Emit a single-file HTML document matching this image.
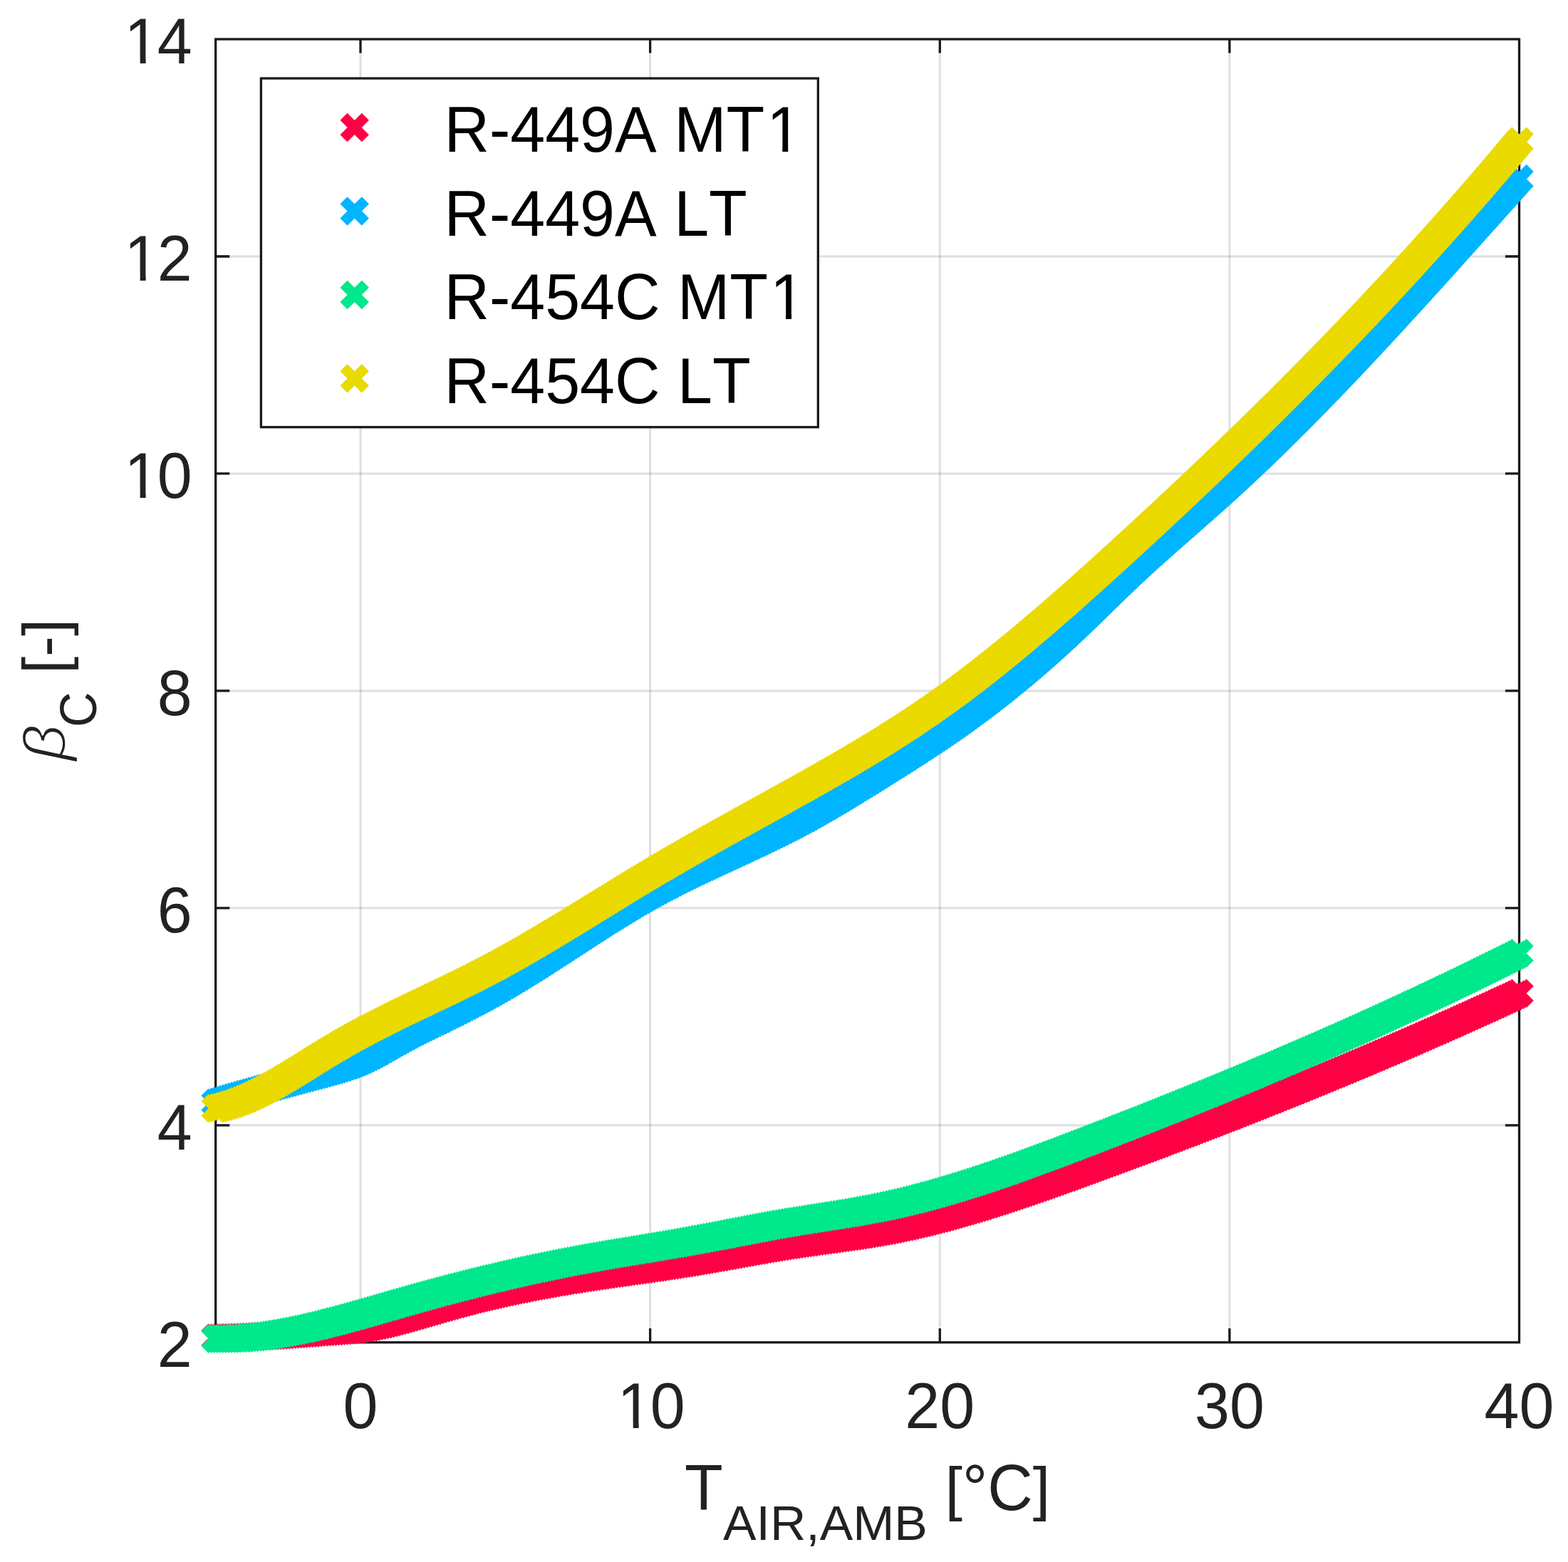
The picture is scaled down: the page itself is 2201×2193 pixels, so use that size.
<!DOCTYPE html>
<html><head><meta charset="utf-8"><title>plot</title>
<style>
html,body{margin:0;padding:0;background:#fff;}
svg{display:block;}
text{font-family:"Liberation Sans",Arial,Helvetica,sans-serif;font-kerning:none;}
</style></head><body>
<svg width="2201" height="2193" viewBox="0 0 2201 2193">
<defs>
</defs>
<rect width="2201" height="2193" fill="#fff"/>
<path d="M506.0 55.0V1884.7M912.6 55.0V1884.7M1319.3 55.0V1884.7M1725.9 55.0V1884.7" stroke="#262626" stroke-opacity="0.15" stroke-width="3" fill="none"/>
<path d="M302.7 1579.8H2132.5M302.7 1274.8H2132.5M302.7 969.9H2132.5M302.7 664.9H2132.5M302.7 360.0H2132.5" stroke="#262626" stroke-opacity="0.15" stroke-width="3" fill="none"/>
<path d="M506.0 1884.7v-19.6M506.0 55.0v19.6M912.6 1884.7v-19.6M912.6 55.0v19.6M1319.3 1884.7v-19.6M1319.3 55.0v19.6M1725.9 1884.7v-19.6M1725.9 55.0v19.6M302.7 1579.8h19.6M2132.5 1579.8h-19.6M302.7 1274.8h19.6M2132.5 1274.8h-19.6M302.7 969.9h19.6M2132.5 969.9h-19.6M302.7 664.9h19.6M2132.5 664.9h-19.6M302.7 360.0h19.6M2132.5 360.0h-19.6" stroke="#1a1a1a" stroke-width="3.3" fill="none"/>
<rect x="302.7" y="55.0" width="1829.8" height="1829.7" fill="none" stroke="#1a1a1a" stroke-width="3.3"/>
<path fill="none" stroke="#ff0044" stroke-width="14.35" d="M287.5 1863.3l30.4 30.4m0 -30.4l-30.4 30.4M291.6 1863.3l30.4 30.4m0 -30.4l-30.4 30.4M295.6 1863.2l30.4 30.4m0 -30.4l-30.4 30.4M299.7 1863.1l30.4 30.4m0 -30.4l-30.4 30.4M303.8 1863.0l30.4 30.4m0 -30.4l-30.4 30.4M307.8 1862.9l30.4 30.4m0 -30.4l-30.4 30.4M311.9 1862.8l30.4 30.4m0 -30.4l-30.4 30.4M316.0 1862.7l30.4 30.4m0 -30.4l-30.4 30.4M320.0 1862.5l30.4 30.4m0 -30.4l-30.4 30.4M324.1 1862.4l30.4 30.4m0 -30.4l-30.4 30.4M328.2 1862.2l30.4 30.4m0 -30.4l-30.4 30.4M332.2 1862.0l30.4 30.4m0 -30.4l-30.4 30.4M336.3 1861.8l30.4 30.4m0 -30.4l-30.4 30.4M340.4 1861.6l30.4 30.4m0 -30.4l-30.4 30.4M344.4 1861.4l30.4 30.4m0 -30.4l-30.4 30.4M348.5 1861.1l30.4 30.4m0 -30.4l-30.4 30.4M352.6 1860.9l30.4 30.4m0 -30.4l-30.4 30.4M356.6 1860.6l30.4 30.4m0 -30.4l-30.4 30.4M360.7 1860.4l30.4 30.4m0 -30.4l-30.4 30.4M364.8 1860.1l30.4 30.4m0 -30.4l-30.4 30.4M368.8 1859.8l30.4 30.4m0 -30.4l-30.4 30.4M372.9 1859.6l30.4 30.4m0 -30.4l-30.4 30.4M377.0 1859.3l30.4 30.4m0 -30.4l-30.4 30.4M381.0 1859.0l30.4 30.4m0 -30.4l-30.4 30.4M385.1 1858.7l30.4 30.4m0 -30.4l-30.4 30.4M389.2 1858.4l30.4 30.4m0 -30.4l-30.4 30.4M393.2 1858.1l30.4 30.4m0 -30.4l-30.4 30.4M397.3 1857.8l30.4 30.4m0 -30.4l-30.4 30.4M401.4 1857.5l30.4 30.4m0 -30.4l-30.4 30.4M405.4 1857.2l30.4 30.4m0 -30.4l-30.4 30.4M409.5 1856.9l30.4 30.4m0 -30.4l-30.4 30.4M413.6 1856.6l30.4 30.4m0 -30.4l-30.4 30.4M417.6 1856.3l30.4 30.4m0 -30.4l-30.4 30.4M421.7 1856.0l30.4 30.4m0 -30.4l-30.4 30.4M425.8 1855.7l30.4 30.4m0 -30.4l-30.4 30.4M429.8 1855.4l30.4 30.4m0 -30.4l-30.4 30.4M433.9 1855.1l30.4 30.4m0 -30.4l-30.4 30.4M438.0 1854.8l30.4 30.4m0 -30.4l-30.4 30.4M442.0 1854.5l30.4 30.4m0 -30.4l-30.4 30.4M446.1 1854.3l30.4 30.4m0 -30.4l-30.4 30.4M450.1 1854.0l30.4 30.4m0 -30.4l-30.4 30.4M454.2 1853.7l30.4 30.4m0 -30.4l-30.4 30.4M458.3 1853.4l30.4 30.4m0 -30.4l-30.4 30.4M462.3 1853.1l30.4 30.4m0 -30.4l-30.4 30.4M466.4 1852.7l30.4 30.4m0 -30.4l-30.4 30.4M470.5 1852.4l30.4 30.4m0 -30.4l-30.4 30.4M474.5 1852.0l30.4 30.4m0 -30.4l-30.4 30.4M478.6 1851.5l30.4 30.4m0 -30.4l-30.4 30.4M482.7 1851.1l30.4 30.4m0 -30.4l-30.4 30.4M486.7 1850.5l30.4 30.4m0 -30.4l-30.4 30.4M490.8 1850.0l30.4 30.4m0 -30.4l-30.4 30.4M494.9 1849.3l30.4 30.4m0 -30.4l-30.4 30.4M498.9 1848.7l30.4 30.4m0 -30.4l-30.4 30.4M503.0 1848.0l30.4 30.4m0 -30.4l-30.4 30.4M507.1 1847.2l30.4 30.4m0 -30.4l-30.4 30.4M511.1 1846.4l30.4 30.4m0 -30.4l-30.4 30.4M515.2 1845.5l30.4 30.4m0 -30.4l-30.4 30.4M519.3 1844.6l30.4 30.4m0 -30.4l-30.4 30.4M523.3 1843.7l30.4 30.4m0 -30.4l-30.4 30.4M527.4 1842.7l30.4 30.4m0 -30.4l-30.4 30.4M531.5 1841.7l30.4 30.4m0 -30.4l-30.4 30.4M535.5 1840.7l30.4 30.4m0 -30.4l-30.4 30.4M539.6 1839.6l30.4 30.4m0 -30.4l-30.4 30.4M543.7 1838.6l30.4 30.4m0 -30.4l-30.4 30.4M547.7 1837.5l30.4 30.4m0 -30.4l-30.4 30.4M551.8 1836.4l30.4 30.4m0 -30.4l-30.4 30.4M555.9 1835.2l30.4 30.4m0 -30.4l-30.4 30.4M559.9 1834.1l30.4 30.4m0 -30.4l-30.4 30.4M564.0 1832.9l30.4 30.4m0 -30.4l-30.4 30.4M568.1 1831.8l30.4 30.4m0 -30.4l-30.4 30.4M572.1 1830.6l30.4 30.4m0 -30.4l-30.4 30.4M576.2 1829.4l30.4 30.4m0 -30.4l-30.4 30.4M580.3 1828.2l30.4 30.4m0 -30.4l-30.4 30.4M584.3 1827.0l30.4 30.4m0 -30.4l-30.4 30.4M588.4 1825.8l30.4 30.4m0 -30.4l-30.4 30.4M592.5 1824.7l30.4 30.4m0 -30.4l-30.4 30.4M596.5 1823.5l30.4 30.4m0 -30.4l-30.4 30.4M600.6 1822.3l30.4 30.4m0 -30.4l-30.4 30.4M604.7 1821.1l30.4 30.4m0 -30.4l-30.4 30.4M608.7 1820.0l30.4 30.4m0 -30.4l-30.4 30.4M612.8 1818.8l30.4 30.4m0 -30.4l-30.4 30.4M616.9 1817.7l30.4 30.4m0 -30.4l-30.4 30.4M620.9 1816.6l30.4 30.4m0 -30.4l-30.4 30.4M625.0 1815.5l30.4 30.4m0 -30.4l-30.4 30.4M629.1 1814.4l30.4 30.4m0 -30.4l-30.4 30.4M633.1 1813.3l30.4 30.4m0 -30.4l-30.4 30.4M637.2 1812.2l30.4 30.4m0 -30.4l-30.4 30.4M641.3 1811.2l30.4 30.4m0 -30.4l-30.4 30.4M645.3 1810.1l30.4 30.4m0 -30.4l-30.4 30.4M649.4 1809.1l30.4 30.4m0 -30.4l-30.4 30.4M653.5 1808.1l30.4 30.4m0 -30.4l-30.4 30.4M657.5 1807.1l30.4 30.4m0 -30.4l-30.4 30.4M661.6 1806.1l30.4 30.4m0 -30.4l-30.4 30.4M665.7 1805.2l30.4 30.4m0 -30.4l-30.4 30.4M669.7 1804.2l30.4 30.4m0 -30.4l-30.4 30.4M673.8 1803.2l30.4 30.4m0 -30.4l-30.4 30.4M677.9 1802.3l30.4 30.4m0 -30.4l-30.4 30.4M681.9 1801.4l30.4 30.4m0 -30.4l-30.4 30.4M686.0 1800.5l30.4 30.4m0 -30.4l-30.4 30.4M690.1 1799.6l30.4 30.4m0 -30.4l-30.4 30.4M694.1 1798.7l30.4 30.4m0 -30.4l-30.4 30.4M698.2 1797.8l30.4 30.4m0 -30.4l-30.4 30.4M702.3 1797.0l30.4 30.4m0 -30.4l-30.4 30.4M706.3 1796.1l30.4 30.4m0 -30.4l-30.4 30.4M710.4 1795.3l30.4 30.4m0 -30.4l-30.4 30.4M714.5 1794.5l30.4 30.4m0 -30.4l-30.4 30.4M718.5 1793.7l30.4 30.4m0 -30.4l-30.4 30.4M722.6 1792.9l30.4 30.4m0 -30.4l-30.4 30.4M726.7 1792.1l30.4 30.4m0 -30.4l-30.4 30.4M730.7 1791.3l30.4 30.4m0 -30.4l-30.4 30.4M734.8 1790.5l30.4 30.4m0 -30.4l-30.4 30.4M738.9 1789.7l30.4 30.4m0 -30.4l-30.4 30.4M742.9 1789.0l30.4 30.4m0 -30.4l-30.4 30.4M747.0 1788.2l30.4 30.4m0 -30.4l-30.4 30.4M751.0 1787.5l30.4 30.4m0 -30.4l-30.4 30.4M755.1 1786.8l30.4 30.4m0 -30.4l-30.4 30.4M759.2 1786.1l30.4 30.4m0 -30.4l-30.4 30.4M763.2 1785.4l30.4 30.4m0 -30.4l-30.4 30.4M767.3 1784.7l30.4 30.4m0 -30.4l-30.4 30.4M771.4 1784.0l30.4 30.4m0 -30.4l-30.4 30.4M775.4 1783.3l30.4 30.4m0 -30.4l-30.4 30.4M779.5 1782.6l30.4 30.4m0 -30.4l-30.4 30.4M783.6 1782.0l30.4 30.4m0 -30.4l-30.4 30.4M787.6 1781.3l30.4 30.4m0 -30.4l-30.4 30.4M791.7 1780.7l30.4 30.4m0 -30.4l-30.4 30.4M795.8 1780.0l30.4 30.4m0 -30.4l-30.4 30.4M799.8 1779.4l30.4 30.4m0 -30.4l-30.4 30.4M803.9 1778.8l30.4 30.4m0 -30.4l-30.4 30.4M808.0 1778.2l30.4 30.4m0 -30.4l-30.4 30.4M812.0 1777.6l30.4 30.4m0 -30.4l-30.4 30.4M816.1 1777.0l30.4 30.4m0 -30.4l-30.4 30.4M820.2 1776.4l30.4 30.4m0 -30.4l-30.4 30.4M824.2 1775.8l30.4 30.4m0 -30.4l-30.4 30.4M828.3 1775.2l30.4 30.4m0 -30.4l-30.4 30.4M832.4 1774.6l30.4 30.4m0 -30.4l-30.4 30.4M836.4 1774.0l30.4 30.4m0 -30.4l-30.4 30.4M840.5 1773.4l30.4 30.4m0 -30.4l-30.4 30.4M844.6 1772.9l30.4 30.4m0 -30.4l-30.4 30.4M848.6 1772.3l30.4 30.4m0 -30.4l-30.4 30.4M852.7 1771.7l30.4 30.4m0 -30.4l-30.4 30.4M856.8 1771.2l30.4 30.4m0 -30.4l-30.4 30.4M860.8 1770.6l30.4 30.4m0 -30.4l-30.4 30.4M864.9 1770.0l30.4 30.4m0 -30.4l-30.4 30.4M869.0 1769.4l30.4 30.4m0 -30.4l-30.4 30.4M873.0 1768.9l30.4 30.4m0 -30.4l-30.4 30.4M877.1 1768.3l30.4 30.4m0 -30.4l-30.4 30.4M881.2 1767.7l30.4 30.4m0 -30.4l-30.4 30.4M885.2 1767.1l30.4 30.4m0 -30.4l-30.4 30.4M889.3 1766.5l30.4 30.4m0 -30.4l-30.4 30.4M893.4 1766.0l30.4 30.4m0 -30.4l-30.4 30.4M897.4 1765.4l30.4 30.4m0 -30.4l-30.4 30.4M901.5 1764.8l30.4 30.4m0 -30.4l-30.4 30.4M905.6 1764.2l30.4 30.4m0 -30.4l-30.4 30.4M909.6 1763.6l30.4 30.4m0 -30.4l-30.4 30.4M913.7 1763.0l30.4 30.4m0 -30.4l-30.4 30.4M917.8 1762.4l30.4 30.4m0 -30.4l-30.4 30.4M921.8 1761.8l30.4 30.4m0 -30.4l-30.4 30.4M925.9 1761.2l30.4 30.4m0 -30.4l-30.4 30.4M930.0 1760.5l30.4 30.4m0 -30.4l-30.4 30.4M934.0 1759.9l30.4 30.4m0 -30.4l-30.4 30.4M938.1 1759.3l30.4 30.4m0 -30.4l-30.4 30.4M942.2 1758.6l30.4 30.4m0 -30.4l-30.4 30.4M946.2 1758.0l30.4 30.4m0 -30.4l-30.4 30.4M950.3 1757.3l30.4 30.4m0 -30.4l-30.4 30.4M954.4 1756.7l30.4 30.4m0 -30.4l-30.4 30.4M958.4 1756.0l30.4 30.4m0 -30.4l-30.4 30.4M962.5 1755.3l30.4 30.4m0 -30.4l-30.4 30.4M966.6 1754.6l30.4 30.4m0 -30.4l-30.4 30.4M970.6 1754.0l30.4 30.4m0 -30.4l-30.4 30.4M974.7 1753.3l30.4 30.4m0 -30.4l-30.4 30.4M978.8 1752.5l30.4 30.4m0 -30.4l-30.4 30.4M982.8 1751.8l30.4 30.4m0 -30.4l-30.4 30.4M986.9 1751.1l30.4 30.4m0 -30.4l-30.4 30.4M991.0 1750.4l30.4 30.4m0 -30.4l-30.4 30.4M995.0 1749.7l30.4 30.4m0 -30.4l-30.4 30.4M999.1 1748.9l30.4 30.4m0 -30.4l-30.4 30.4M1003.2 1748.2l30.4 30.4m0 -30.4l-30.4 30.4M1007.2 1747.5l30.4 30.4m0 -30.4l-30.4 30.4M1011.3 1746.7l30.4 30.4m0 -30.4l-30.4 30.4M1015.4 1746.0l30.4 30.4m0 -30.4l-30.4 30.4M1019.4 1745.3l30.4 30.4m0 -30.4l-30.4 30.4M1023.5 1744.5l30.4 30.4m0 -30.4l-30.4 30.4M1027.6 1743.8l30.4 30.4m0 -30.4l-30.4 30.4M1031.6 1743.1l30.4 30.4m0 -30.4l-30.4 30.4M1035.7 1742.3l30.4 30.4m0 -30.4l-30.4 30.4M1039.8 1741.6l30.4 30.4m0 -30.4l-30.4 30.4M1043.8 1740.9l30.4 30.4m0 -30.4l-30.4 30.4M1047.9 1740.2l30.4 30.4m0 -30.4l-30.4 30.4M1051.9 1739.5l30.4 30.4m0 -30.4l-30.4 30.4M1056.0 1738.8l30.4 30.4m0 -30.4l-30.4 30.4M1060.1 1738.1l30.4 30.4m0 -30.4l-30.4 30.4M1064.1 1737.4l30.4 30.4m0 -30.4l-30.4 30.4M1068.2 1736.7l30.4 30.4m0 -30.4l-30.4 30.4M1072.3 1736.0l30.4 30.4m0 -30.4l-30.4 30.4M1076.3 1735.3l30.4 30.4m0 -30.4l-30.4 30.4M1080.4 1734.7l30.4 30.4m0 -30.4l-30.4 30.4M1084.5 1734.0l30.4 30.4m0 -30.4l-30.4 30.4M1088.5 1733.4l30.4 30.4m0 -30.4l-30.4 30.4M1092.6 1732.8l30.4 30.4m0 -30.4l-30.4 30.4M1096.7 1732.2l30.4 30.4m0 -30.4l-30.4 30.4M1100.7 1731.6l30.4 30.4m0 -30.4l-30.4 30.4M1104.8 1731.0l30.4 30.4m0 -30.4l-30.4 30.4M1108.9 1730.4l30.4 30.4m0 -30.4l-30.4 30.4M1112.9 1729.8l30.4 30.4m0 -30.4l-30.4 30.4M1117.0 1729.2l30.4 30.4m0 -30.4l-30.4 30.4M1121.1 1728.7l30.4 30.4m0 -30.4l-30.4 30.4M1125.1 1728.1l30.4 30.4m0 -30.4l-30.4 30.4M1129.2 1727.5l30.4 30.4m0 -30.4l-30.4 30.4M1133.3 1727.0l30.4 30.4m0 -30.4l-30.4 30.4M1137.3 1726.4l30.4 30.4m0 -30.4l-30.4 30.4M1141.4 1725.9l30.4 30.4m0 -30.4l-30.4 30.4M1145.5 1725.3l30.4 30.4m0 -30.4l-30.4 30.4M1149.5 1724.8l30.4 30.4m0 -30.4l-30.4 30.4M1153.6 1724.2l30.4 30.4m0 -30.4l-30.4 30.4M1157.7 1723.6l30.4 30.4m0 -30.4l-30.4 30.4M1161.7 1723.1l30.4 30.4m0 -30.4l-30.4 30.4M1165.8 1722.5l30.4 30.4m0 -30.4l-30.4 30.4M1169.9 1721.9l30.4 30.4m0 -30.4l-30.4 30.4M1173.9 1721.4l30.4 30.4m0 -30.4l-30.4 30.4M1178.0 1720.8l30.4 30.4m0 -30.4l-30.4 30.4M1182.1 1720.2l30.4 30.4m0 -30.4l-30.4 30.4M1186.1 1719.6l30.4 30.4m0 -30.4l-30.4 30.4M1190.2 1719.0l30.4 30.4m0 -30.4l-30.4 30.4M1194.3 1718.3l30.4 30.4m0 -30.4l-30.4 30.4M1198.3 1717.7l30.4 30.4m0 -30.4l-30.4 30.4M1202.4 1717.0l30.4 30.4m0 -30.4l-30.4 30.4M1206.5 1716.4l30.4 30.4m0 -30.4l-30.4 30.4M1210.5 1715.7l30.4 30.4m0 -30.4l-30.4 30.4M1214.6 1715.0l30.4 30.4m0 -30.4l-30.4 30.4M1218.7 1714.3l30.4 30.4m0 -30.4l-30.4 30.4M1222.7 1713.6l30.4 30.4m0 -30.4l-30.4 30.4M1226.8 1712.8l30.4 30.4m0 -30.4l-30.4 30.4M1230.9 1712.0l30.4 30.4m0 -30.4l-30.4 30.4M1234.9 1711.3l30.4 30.4m0 -30.4l-30.4 30.4M1239.0 1710.5l30.4 30.4m0 -30.4l-30.4 30.4M1243.1 1709.6l30.4 30.4m0 -30.4l-30.4 30.4M1247.1 1708.8l30.4 30.4m0 -30.4l-30.4 30.4M1251.2 1707.9l30.4 30.4m0 -30.4l-30.4 30.4M1255.3 1707.1l30.4 30.4m0 -30.4l-30.4 30.4M1259.3 1706.2l30.4 30.4m0 -30.4l-30.4 30.4M1263.4 1705.3l30.4 30.4m0 -30.4l-30.4 30.4M1267.5 1704.3l30.4 30.4m0 -30.4l-30.4 30.4M1271.5 1703.4l30.4 30.4m0 -30.4l-30.4 30.4M1275.6 1702.4l30.4 30.4m0 -30.4l-30.4 30.4M1279.7 1701.5l30.4 30.4m0 -30.4l-30.4 30.4M1283.7 1700.5l30.4 30.4m0 -30.4l-30.4 30.4M1287.8 1699.5l30.4 30.4m0 -30.4l-30.4 30.4M1291.9 1698.4l30.4 30.4m0 -30.4l-30.4 30.4M1295.9 1697.4l30.4 30.4m0 -30.4l-30.4 30.4M1300.0 1696.4l30.4 30.4m0 -30.4l-30.4 30.4M1304.1 1695.3l30.4 30.4m0 -30.4l-30.4 30.4M1308.1 1694.2l30.4 30.4m0 -30.4l-30.4 30.4M1312.2 1693.1l30.4 30.4m0 -30.4l-30.4 30.4M1316.3 1692.0l30.4 30.4m0 -30.4l-30.4 30.4M1320.3 1690.9l30.4 30.4m0 -30.4l-30.4 30.4M1324.4 1689.7l30.4 30.4m0 -30.4l-30.4 30.4M1328.5 1688.6l30.4 30.4m0 -30.4l-30.4 30.4M1332.5 1687.4l30.4 30.4m0 -30.4l-30.4 30.4M1336.6 1686.3l30.4 30.4m0 -30.4l-30.4 30.4M1340.7 1685.1l30.4 30.4m0 -30.4l-30.4 30.4M1344.7 1683.9l30.4 30.4m0 -30.4l-30.4 30.4M1348.8 1682.7l30.4 30.4m0 -30.4l-30.4 30.4M1352.9 1681.4l30.4 30.4m0 -30.4l-30.4 30.4M1356.9 1680.2l30.4 30.4m0 -30.4l-30.4 30.4M1361.0 1679.0l30.4 30.4m0 -30.4l-30.4 30.4M1365.0 1677.7l30.4 30.4m0 -30.4l-30.4 30.4M1369.1 1676.4l30.4 30.4m0 -30.4l-30.4 30.4M1373.2 1675.2l30.4 30.4m0 -30.4l-30.4 30.4M1377.2 1673.9l30.4 30.4m0 -30.4l-30.4 30.4M1381.3 1672.6l30.4 30.4m0 -30.4l-30.4 30.4M1385.4 1671.3l30.4 30.4m0 -30.4l-30.4 30.4M1389.4 1670.0l30.4 30.4m0 -30.4l-30.4 30.4M1393.5 1668.6l30.4 30.4m0 -30.4l-30.4 30.4M1397.6 1667.3l30.4 30.4m0 -30.4l-30.4 30.4M1401.6 1666.0l30.4 30.4m0 -30.4l-30.4 30.4M1405.7 1664.6l30.4 30.4m0 -30.4l-30.4 30.4M1409.8 1663.2l30.4 30.4m0 -30.4l-30.4 30.4M1413.8 1661.9l30.4 30.4m0 -30.4l-30.4 30.4M1417.9 1660.5l30.4 30.4m0 -30.4l-30.4 30.4M1422.0 1659.1l30.4 30.4m0 -30.4l-30.4 30.4M1426.0 1657.7l30.4 30.4m0 -30.4l-30.4 30.4M1430.1 1656.3l30.4 30.4m0 -30.4l-30.4 30.4M1434.2 1654.9l30.4 30.4m0 -30.4l-30.4 30.4M1438.2 1653.5l30.4 30.4m0 -30.4l-30.4 30.4M1442.3 1652.1l30.4 30.4m0 -30.4l-30.4 30.4M1446.4 1650.7l30.4 30.4m0 -30.4l-30.4 30.4M1450.4 1649.3l30.4 30.4m0 -30.4l-30.4 30.4M1454.5 1647.8l30.4 30.4m0 -30.4l-30.4 30.4M1458.6 1646.4l30.4 30.4m0 -30.4l-30.4 30.4M1462.6 1644.9l30.4 30.4m0 -30.4l-30.4 30.4M1466.7 1643.5l30.4 30.4m0 -30.4l-30.4 30.4M1470.8 1642.0l30.4 30.4m0 -30.4l-30.4 30.4M1474.8 1640.6l30.4 30.4m0 -30.4l-30.4 30.4M1478.9 1639.1l30.4 30.4m0 -30.4l-30.4 30.4M1483.0 1637.7l30.4 30.4m0 -30.4l-30.4 30.4M1487.0 1636.2l30.4 30.4m0 -30.4l-30.4 30.4M1491.1 1634.7l30.4 30.4m0 -30.4l-30.4 30.4M1495.2 1633.3l30.4 30.4m0 -30.4l-30.4 30.4M1499.2 1631.8l30.4 30.4m0 -30.4l-30.4 30.4M1503.3 1630.3l30.4 30.4m0 -30.4l-30.4 30.4M1507.4 1628.8l30.4 30.4m0 -30.4l-30.4 30.4M1511.4 1627.3l30.4 30.4m0 -30.4l-30.4 30.4M1515.5 1625.9l30.4 30.4m0 -30.4l-30.4 30.4M1519.6 1624.4l30.4 30.4m0 -30.4l-30.4 30.4M1523.6 1622.9l30.4 30.4m0 -30.4l-30.4 30.4M1527.7 1621.4l30.4 30.4m0 -30.4l-30.4 30.4M1531.8 1619.9l30.4 30.4m0 -30.4l-30.4 30.4M1535.8 1618.4l30.4 30.4m0 -30.4l-30.4 30.4M1539.9 1616.9l30.4 30.4m0 -30.4l-30.4 30.4M1544.0 1615.4l30.4 30.4m0 -30.4l-30.4 30.4M1548.0 1613.9l30.4 30.4m0 -30.4l-30.4 30.4M1552.1 1612.4l30.4 30.4m0 -30.4l-30.4 30.4M1556.2 1610.9l30.4 30.4m0 -30.4l-30.4 30.4M1560.2 1609.4l30.4 30.4m0 -30.4l-30.4 30.4M1564.3 1607.9l30.4 30.4m0 -30.4l-30.4 30.4M1568.4 1606.4l30.4 30.4m0 -30.4l-30.4 30.4M1572.4 1604.9l30.4 30.4m0 -30.4l-30.4 30.4M1576.5 1603.4l30.4 30.4m0 -30.4l-30.4 30.4M1580.6 1601.9l30.4 30.4m0 -30.4l-30.4 30.4M1584.6 1600.4l30.4 30.4m0 -30.4l-30.4 30.4M1588.7 1598.8l30.4 30.4m0 -30.4l-30.4 30.4M1592.8 1597.3l30.4 30.4m0 -30.4l-30.4 30.4M1596.8 1595.8l30.4 30.4m0 -30.4l-30.4 30.4M1600.9 1594.3l30.4 30.4m0 -30.4l-30.4 30.4M1605.0 1592.7l30.4 30.4m0 -30.4l-30.4 30.4M1609.0 1591.2l30.4 30.4m0 -30.4l-30.4 30.4M1613.1 1589.7l30.4 30.4m0 -30.4l-30.4 30.4M1617.2 1588.1l30.4 30.4m0 -30.4l-30.4 30.4M1621.2 1586.6l30.4 30.4m0 -30.4l-30.4 30.4M1625.3 1585.1l30.4 30.4m0 -30.4l-30.4 30.4M1629.4 1583.5l30.4 30.4m0 -30.4l-30.4 30.4M1633.4 1582.0l30.4 30.4m0 -30.4l-30.4 30.4M1637.5 1580.4l30.4 30.4m0 -30.4l-30.4 30.4M1641.6 1578.9l30.4 30.4m0 -30.4l-30.4 30.4M1645.6 1577.4l30.4 30.4m0 -30.4l-30.4 30.4M1649.7 1575.8l30.4 30.4m0 -30.4l-30.4 30.4M1653.8 1574.2l30.4 30.4m0 -30.4l-30.4 30.4M1657.8 1572.7l30.4 30.4m0 -30.4l-30.4 30.4M1661.9 1571.1l30.4 30.4m0 -30.4l-30.4 30.4M1665.9 1569.6l30.4 30.4m0 -30.4l-30.4 30.4M1670.0 1568.0l30.4 30.4m0 -30.4l-30.4 30.4M1674.1 1566.4l30.4 30.4m0 -30.4l-30.4 30.4M1678.1 1564.9l30.4 30.4m0 -30.4l-30.4 30.4M1682.2 1563.3l30.4 30.4m0 -30.4l-30.4 30.4M1686.3 1561.7l30.4 30.4m0 -30.4l-30.4 30.4M1690.3 1560.2l30.4 30.4m0 -30.4l-30.4 30.4M1694.4 1558.6l30.4 30.4m0 -30.4l-30.4 30.4M1698.5 1557.0l30.4 30.4m0 -30.4l-30.4 30.4M1702.5 1555.4l30.4 30.4m0 -30.4l-30.4 30.4M1706.6 1553.8l30.4 30.4m0 -30.4l-30.4 30.4M1710.7 1552.3l30.4 30.4m0 -30.4l-30.4 30.4M1714.7 1550.7l30.4 30.4m0 -30.4l-30.4 30.4M1718.8 1549.1l30.4 30.4m0 -30.4l-30.4 30.4M1722.9 1547.5l30.4 30.4m0 -30.4l-30.4 30.4M1726.9 1545.9l30.4 30.4m0 -30.4l-30.4 30.4M1731.0 1544.3l30.4 30.4m0 -30.4l-30.4 30.4M1735.1 1542.7l30.4 30.4m0 -30.4l-30.4 30.4M1739.1 1541.1l30.4 30.4m0 -30.4l-30.4 30.4M1743.2 1539.5l30.4 30.4m0 -30.4l-30.4 30.4M1747.3 1537.9l30.4 30.4m0 -30.4l-30.4 30.4M1751.3 1536.3l30.4 30.4m0 -30.4l-30.4 30.4M1755.4 1534.6l30.4 30.4m0 -30.4l-30.4 30.4M1759.5 1533.0l30.4 30.4m0 -30.4l-30.4 30.4M1763.5 1531.4l30.4 30.4m0 -30.4l-30.4 30.4M1767.6 1529.8l30.4 30.4m0 -30.4l-30.4 30.4M1771.7 1528.2l30.4 30.4m0 -30.4l-30.4 30.4M1775.7 1526.5l30.4 30.4m0 -30.4l-30.4 30.4M1779.8 1524.9l30.4 30.4m0 -30.4l-30.4 30.4M1783.9 1523.3l30.4 30.4m0 -30.4l-30.4 30.4M1787.9 1521.6l30.4 30.4m0 -30.4l-30.4 30.4M1792.0 1520.0l30.4 30.4m0 -30.4l-30.4 30.4M1796.1 1518.4l30.4 30.4m0 -30.4l-30.4 30.4M1800.1 1516.7l30.4 30.4m0 -30.4l-30.4 30.4M1804.2 1515.1l30.4 30.4m0 -30.4l-30.4 30.4M1808.3 1513.4l30.4 30.4m0 -30.4l-30.4 30.4M1812.3 1511.8l30.4 30.4m0 -30.4l-30.4 30.4M1816.4 1510.1l30.4 30.4m0 -30.4l-30.4 30.4M1820.5 1508.5l30.4 30.4m0 -30.4l-30.4 30.4M1824.5 1506.8l30.4 30.4m0 -30.4l-30.4 30.4M1828.6 1505.1l30.4 30.4m0 -30.4l-30.4 30.4M1832.7 1503.5l30.4 30.4m0 -30.4l-30.4 30.4M1836.7 1501.8l30.4 30.4m0 -30.4l-30.4 30.4M1840.8 1500.1l30.4 30.4m0 -30.4l-30.4 30.4M1844.9 1498.5l30.4 30.4m0 -30.4l-30.4 30.4M1848.9 1496.8l30.4 30.4m0 -30.4l-30.4 30.4M1853.0 1495.1l30.4 30.4m0 -30.4l-30.4 30.4M1857.1 1493.4l30.4 30.4m0 -30.4l-30.4 30.4M1861.1 1491.8l30.4 30.4m0 -30.4l-30.4 30.4M1865.2 1490.1l30.4 30.4m0 -30.4l-30.4 30.4M1869.3 1488.4l30.4 30.4m0 -30.4l-30.4 30.4M1873.3 1486.7l30.4 30.4m0 -30.4l-30.4 30.4M1877.4 1485.0l30.4 30.4m0 -30.4l-30.4 30.4M1881.5 1483.3l30.4 30.4m0 -30.4l-30.4 30.4M1885.5 1481.6l30.4 30.4m0 -30.4l-30.4 30.4M1889.6 1479.9l30.4 30.4m0 -30.4l-30.4 30.4M1893.7 1478.2l30.4 30.4m0 -30.4l-30.4 30.4M1897.7 1476.5l30.4 30.4m0 -30.4l-30.4 30.4M1901.8 1474.8l30.4 30.4m0 -30.4l-30.4 30.4M1905.9 1473.0l30.4 30.4m0 -30.4l-30.4 30.4M1909.9 1471.3l30.4 30.4m0 -30.4l-30.4 30.4M1914.0 1469.6l30.4 30.4m0 -30.4l-30.4 30.4M1918.1 1467.9l30.4 30.4m0 -30.4l-30.4 30.4M1922.1 1466.2l30.4 30.4m0 -30.4l-30.4 30.4M1926.2 1464.4l30.4 30.4m0 -30.4l-30.4 30.4M1930.3 1462.7l30.4 30.4m0 -30.4l-30.4 30.4M1934.3 1461.0l30.4 30.4m0 -30.4l-30.4 30.4M1938.4 1459.2l30.4 30.4m0 -30.4l-30.4 30.4M1942.5 1457.5l30.4 30.4m0 -30.4l-30.4 30.4M1946.5 1455.7l30.4 30.4m0 -30.4l-30.4 30.4M1950.6 1454.0l30.4 30.4m0 -30.4l-30.4 30.4M1954.7 1452.2l30.4 30.4m0 -30.4l-30.4 30.4M1958.7 1450.5l30.4 30.4m0 -30.4l-30.4 30.4M1962.8 1448.7l30.4 30.4m0 -30.4l-30.4 30.4M1966.8 1447.0l30.4 30.4m0 -30.4l-30.4 30.4M1970.9 1445.2l30.4 30.4m0 -30.4l-30.4 30.4M1975.0 1443.4l30.4 30.4m0 -30.4l-30.4 30.4M1979.0 1441.7l30.4 30.4m0 -30.4l-30.4 30.4M1983.1 1439.9l30.4 30.4m0 -30.4l-30.4 30.4M1987.2 1438.1l30.4 30.4m0 -30.4l-30.4 30.4M1991.2 1436.3l30.4 30.4m0 -30.4l-30.4 30.4M1995.3 1434.5l30.4 30.4m0 -30.4l-30.4 30.4M1999.4 1432.8l30.4 30.4m0 -30.4l-30.4 30.4M2003.4 1431.0l30.4 30.4m0 -30.4l-30.4 30.4M2007.5 1429.2l30.4 30.4m0 -30.4l-30.4 30.4M2011.6 1427.4l30.4 30.4m0 -30.4l-30.4 30.4M2015.6 1425.6l30.4 30.4m0 -30.4l-30.4 30.4M2019.7 1423.8l30.4 30.4m0 -30.4l-30.4 30.4M2023.8 1422.0l30.4 30.4m0 -30.4l-30.4 30.4M2027.8 1420.2l30.4 30.4m0 -30.4l-30.4 30.4M2031.9 1418.4l30.4 30.4m0 -30.4l-30.4 30.4M2036.0 1416.5l30.4 30.4m0 -30.4l-30.4 30.4M2040.0 1414.7l30.4 30.4m0 -30.4l-30.4 30.4M2044.1 1412.9l30.4 30.4m0 -30.4l-30.4 30.4M2048.2 1411.1l30.4 30.4m0 -30.4l-30.4 30.4M2052.2 1409.2l30.4 30.4m0 -30.4l-30.4 30.4M2056.3 1407.4l30.4 30.4m0 -30.4l-30.4 30.4M2060.4 1405.6l30.4 30.4m0 -30.4l-30.4 30.4M2064.4 1403.7l30.4 30.4m0 -30.4l-30.4 30.4M2068.5 1401.9l30.4 30.4m0 -30.4l-30.4 30.4M2072.6 1400.1l30.4 30.4m0 -30.4l-30.4 30.4M2076.6 1398.2l30.4 30.4m0 -30.4l-30.4 30.4M2080.7 1396.4l30.4 30.4m0 -30.4l-30.4 30.4M2084.8 1394.5l30.4 30.4m0 -30.4l-30.4 30.4M2088.8 1392.6l30.4 30.4m0 -30.4l-30.4 30.4M2092.9 1390.8l30.4 30.4m0 -30.4l-30.4 30.4M2097.0 1388.9l30.4 30.4m0 -30.4l-30.4 30.4M2101.0 1387.0l30.4 30.4m0 -30.4l-30.4 30.4M2105.1 1385.2l30.4 30.4m0 -30.4l-30.4 30.4M2109.2 1383.3l30.4 30.4m0 -30.4l-30.4 30.4M2113.2 1381.4l30.4 30.4m0 -30.4l-30.4 30.4M2117.3 1379.5l30.4 30.4m0 -30.4l-30.4 30.4"/>
<path fill="none" stroke="#00b5ff" stroke-width="14.35" d="M287.5 1533.2l30.4 30.4m0 -30.4l-30.4 30.4M291.6 1532.0l30.4 30.4m0 -30.4l-30.4 30.4M295.6 1530.8l30.4 30.4m0 -30.4l-30.4 30.4M299.7 1529.6l30.4 30.4m0 -30.4l-30.4 30.4M303.8 1528.5l30.4 30.4m0 -30.4l-30.4 30.4M307.8 1527.3l30.4 30.4m0 -30.4l-30.4 30.4M311.9 1526.1l30.4 30.4m0 -30.4l-30.4 30.4M316.0 1524.9l30.4 30.4m0 -30.4l-30.4 30.4M320.0 1523.8l30.4 30.4m0 -30.4l-30.4 30.4M324.1 1522.6l30.4 30.4m0 -30.4l-30.4 30.4M328.2 1521.4l30.4 30.4m0 -30.4l-30.4 30.4M332.2 1520.3l30.4 30.4m0 -30.4l-30.4 30.4M336.3 1519.1l30.4 30.4m0 -30.4l-30.4 30.4M340.4 1518.0l30.4 30.4m0 -30.4l-30.4 30.4M344.4 1516.8l30.4 30.4m0 -30.4l-30.4 30.4M348.5 1515.7l30.4 30.4m0 -30.4l-30.4 30.4M352.6 1514.6l30.4 30.4m0 -30.4l-30.4 30.4M356.6 1513.4l30.4 30.4m0 -30.4l-30.4 30.4M360.7 1512.3l30.4 30.4m0 -30.4l-30.4 30.4M364.8 1511.2l30.4 30.4m0 -30.4l-30.4 30.4M368.8 1510.0l30.4 30.4m0 -30.4l-30.4 30.4M372.9 1508.9l30.4 30.4m0 -30.4l-30.4 30.4M377.0 1507.8l30.4 30.4m0 -30.4l-30.4 30.4M381.0 1506.7l30.4 30.4m0 -30.4l-30.4 30.4M385.1 1505.6l30.4 30.4m0 -30.4l-30.4 30.4M389.2 1504.5l30.4 30.4m0 -30.4l-30.4 30.4M393.2 1503.4l30.4 30.4m0 -30.4l-30.4 30.4M397.3 1502.3l30.4 30.4m0 -30.4l-30.4 30.4M401.4 1501.2l30.4 30.4m0 -30.4l-30.4 30.4M405.4 1500.1l30.4 30.4m0 -30.4l-30.4 30.4M409.5 1499.0l30.4 30.4m0 -30.4l-30.4 30.4M413.6 1498.0l30.4 30.4m0 -30.4l-30.4 30.4M417.6 1496.9l30.4 30.4m0 -30.4l-30.4 30.4M421.7 1495.8l30.4 30.4m0 -30.4l-30.4 30.4M425.8 1494.7l30.4 30.4m0 -30.4l-30.4 30.4M429.8 1493.7l30.4 30.4m0 -30.4l-30.4 30.4M433.9 1492.6l30.4 30.4m0 -30.4l-30.4 30.4M438.0 1491.5l30.4 30.4m0 -30.4l-30.4 30.4M442.0 1490.4l30.4 30.4m0 -30.4l-30.4 30.4M446.1 1489.3l30.4 30.4m0 -30.4l-30.4 30.4M450.1 1488.1l30.4 30.4m0 -30.4l-30.4 30.4M454.2 1487.0l30.4 30.4m0 -30.4l-30.4 30.4M458.3 1485.8l30.4 30.4m0 -30.4l-30.4 30.4M462.3 1484.5l30.4 30.4m0 -30.4l-30.4 30.4M466.4 1483.3l30.4 30.4m0 -30.4l-30.4 30.4M470.5 1481.9l30.4 30.4m0 -30.4l-30.4 30.4M474.5 1480.5l30.4 30.4m0 -30.4l-30.4 30.4M478.6 1479.0l30.4 30.4m0 -30.4l-30.4 30.4M482.7 1477.5l30.4 30.4m0 -30.4l-30.4 30.4M486.7 1475.8l30.4 30.4m0 -30.4l-30.4 30.4M490.8 1474.1l30.4 30.4m0 -30.4l-30.4 30.4M494.9 1472.3l30.4 30.4m0 -30.4l-30.4 30.4M498.9 1470.3l30.4 30.4m0 -30.4l-30.4 30.4M503.0 1468.3l30.4 30.4m0 -30.4l-30.4 30.4M507.1 1466.2l30.4 30.4m0 -30.4l-30.4 30.4M511.1 1464.1l30.4 30.4m0 -30.4l-30.4 30.4M515.2 1461.9l30.4 30.4m0 -30.4l-30.4 30.4M519.3 1459.6l30.4 30.4m0 -30.4l-30.4 30.4M523.3 1457.3l30.4 30.4m0 -30.4l-30.4 30.4M527.4 1455.0l30.4 30.4m0 -30.4l-30.4 30.4M531.5 1452.7l30.4 30.4m0 -30.4l-30.4 30.4M535.5 1450.4l30.4 30.4m0 -30.4l-30.4 30.4M539.6 1448.1l30.4 30.4m0 -30.4l-30.4 30.4M543.7 1445.8l30.4 30.4m0 -30.4l-30.4 30.4M547.7 1443.6l30.4 30.4m0 -30.4l-30.4 30.4M551.8 1441.4l30.4 30.4m0 -30.4l-30.4 30.4M555.9 1439.2l30.4 30.4m0 -30.4l-30.4 30.4M559.9 1437.0l30.4 30.4m0 -30.4l-30.4 30.4M564.0 1434.9l30.4 30.4m0 -30.4l-30.4 30.4M568.1 1432.8l30.4 30.4m0 -30.4l-30.4 30.4M572.1 1430.8l30.4 30.4m0 -30.4l-30.4 30.4M576.2 1428.7l30.4 30.4m0 -30.4l-30.4 30.4M580.3 1426.7l30.4 30.4m0 -30.4l-30.4 30.4M584.3 1424.7l30.4 30.4m0 -30.4l-30.4 30.4M588.4 1422.7l30.4 30.4m0 -30.4l-30.4 30.4M592.5 1420.7l30.4 30.4m0 -30.4l-30.4 30.4M596.5 1418.7l30.4 30.4m0 -30.4l-30.4 30.4M600.6 1416.7l30.4 30.4m0 -30.4l-30.4 30.4M604.7 1414.8l30.4 30.4m0 -30.4l-30.4 30.4M608.7 1412.8l30.4 30.4m0 -30.4l-30.4 30.4M612.8 1410.8l30.4 30.4m0 -30.4l-30.4 30.4M616.9 1408.8l30.4 30.4m0 -30.4l-30.4 30.4M620.9 1406.8l30.4 30.4m0 -30.4l-30.4 30.4M625.0 1404.7l30.4 30.4m0 -30.4l-30.4 30.4M629.1 1402.7l30.4 30.4m0 -30.4l-30.4 30.4M633.1 1400.7l30.4 30.4m0 -30.4l-30.4 30.4M637.2 1398.6l30.4 30.4m0 -30.4l-30.4 30.4M641.3 1396.5l30.4 30.4m0 -30.4l-30.4 30.4M645.3 1394.4l30.4 30.4m0 -30.4l-30.4 30.4M649.4 1392.3l30.4 30.4m0 -30.4l-30.4 30.4M653.5 1390.2l30.4 30.4m0 -30.4l-30.4 30.4M657.5 1388.0l30.4 30.4m0 -30.4l-30.4 30.4M661.6 1385.8l30.4 30.4m0 -30.4l-30.4 30.4M665.7 1383.7l30.4 30.4m0 -30.4l-30.4 30.4M669.7 1381.4l30.4 30.4m0 -30.4l-30.4 30.4M673.8 1379.2l30.4 30.4m0 -30.4l-30.4 30.4M677.9 1376.9l30.4 30.4m0 -30.4l-30.4 30.4M681.9 1374.6l30.4 30.4m0 -30.4l-30.4 30.4M686.0 1372.3l30.4 30.4m0 -30.4l-30.4 30.4M690.1 1370.0l30.4 30.4m0 -30.4l-30.4 30.4M694.1 1367.6l30.4 30.4m0 -30.4l-30.4 30.4M698.2 1365.2l30.4 30.4m0 -30.4l-30.4 30.4M702.3 1362.8l30.4 30.4m0 -30.4l-30.4 30.4M706.3 1360.4l30.4 30.4m0 -30.4l-30.4 30.4M710.4 1357.9l30.4 30.4m0 -30.4l-30.4 30.4M714.5 1355.4l30.4 30.4m0 -30.4l-30.4 30.4M718.5 1352.9l30.4 30.4m0 -30.4l-30.4 30.4M722.6 1350.4l30.4 30.4m0 -30.4l-30.4 30.4M726.7 1347.9l30.4 30.4m0 -30.4l-30.4 30.4M730.7 1345.4l30.4 30.4m0 -30.4l-30.4 30.4M734.8 1342.8l30.4 30.4m0 -30.4l-30.4 30.4M738.9 1340.2l30.4 30.4m0 -30.4l-30.4 30.4M742.9 1337.7l30.4 30.4m0 -30.4l-30.4 30.4M747.0 1335.1l30.4 30.4m0 -30.4l-30.4 30.4M751.0 1332.5l30.4 30.4m0 -30.4l-30.4 30.4M755.1 1329.9l30.4 30.4m0 -30.4l-30.4 30.4M759.2 1327.2l30.4 30.4m0 -30.4l-30.4 30.4M763.2 1324.6l30.4 30.4m0 -30.4l-30.4 30.4M767.3 1322.0l30.4 30.4m0 -30.4l-30.4 30.4M771.4 1319.3l30.4 30.4m0 -30.4l-30.4 30.4M775.4 1316.7l30.4 30.4m0 -30.4l-30.4 30.4M779.5 1314.1l30.4 30.4m0 -30.4l-30.4 30.4M783.6 1311.4l30.4 30.4m0 -30.4l-30.4 30.4M787.6 1308.8l30.4 30.4m0 -30.4l-30.4 30.4M791.7 1306.1l30.4 30.4m0 -30.4l-30.4 30.4M795.8 1303.5l30.4 30.4m0 -30.4l-30.4 30.4M799.8 1300.8l30.4 30.4m0 -30.4l-30.4 30.4M803.9 1298.2l30.4 30.4m0 -30.4l-30.4 30.4M808.0 1295.6l30.4 30.4m0 -30.4l-30.4 30.4M812.0 1292.9l30.4 30.4m0 -30.4l-30.4 30.4M816.1 1290.3l30.4 30.4m0 -30.4l-30.4 30.4M820.2 1287.7l30.4 30.4m0 -30.4l-30.4 30.4M824.2 1285.1l30.4 30.4m0 -30.4l-30.4 30.4M828.3 1282.5l30.4 30.4m0 -30.4l-30.4 30.4M832.4 1279.9l30.4 30.4m0 -30.4l-30.4 30.4M836.4 1277.3l30.4 30.4m0 -30.4l-30.4 30.4M840.5 1274.8l30.4 30.4m0 -30.4l-30.4 30.4M844.6 1272.2l30.4 30.4m0 -30.4l-30.4 30.4M848.6 1269.7l30.4 30.4m0 -30.4l-30.4 30.4M852.7 1267.1l30.4 30.4m0 -30.4l-30.4 30.4M856.8 1264.6l30.4 30.4m0 -30.4l-30.4 30.4M860.8 1262.2l30.4 30.4m0 -30.4l-30.4 30.4M864.9 1259.7l30.4 30.4m0 -30.4l-30.4 30.4M869.0 1257.3l30.4 30.4m0 -30.4l-30.4 30.4M873.0 1254.8l30.4 30.4m0 -30.4l-30.4 30.4M877.1 1252.4l30.4 30.4m0 -30.4l-30.4 30.4M881.2 1250.0l30.4 30.4m0 -30.4l-30.4 30.4M885.2 1247.7l30.4 30.4m0 -30.4l-30.4 30.4M889.3 1245.4l30.4 30.4m0 -30.4l-30.4 30.4M893.4 1243.1l30.4 30.4m0 -30.4l-30.4 30.4M897.4 1240.8l30.4 30.4m0 -30.4l-30.4 30.4M901.5 1238.5l30.4 30.4m0 -30.4l-30.4 30.4M905.6 1236.3l30.4 30.4m0 -30.4l-30.4 30.4M909.6 1234.1l30.4 30.4m0 -30.4l-30.4 30.4M913.7 1231.9l30.4 30.4m0 -30.4l-30.4 30.4M917.8 1229.8l30.4 30.4m0 -30.4l-30.4 30.4M921.8 1227.7l30.4 30.4m0 -30.4l-30.4 30.4M925.9 1225.6l30.4 30.4m0 -30.4l-30.4 30.4M930.0 1223.5l30.4 30.4m0 -30.4l-30.4 30.4M934.0 1221.4l30.4 30.4m0 -30.4l-30.4 30.4M938.1 1219.4l30.4 30.4m0 -30.4l-30.4 30.4M942.2 1217.4l30.4 30.4m0 -30.4l-30.4 30.4M946.2 1215.4l30.4 30.4m0 -30.4l-30.4 30.4M950.3 1213.4l30.4 30.4m0 -30.4l-30.4 30.4M954.4 1211.4l30.4 30.4m0 -30.4l-30.4 30.4M958.4 1209.4l30.4 30.4m0 -30.4l-30.4 30.4M962.5 1207.5l30.4 30.4m0 -30.4l-30.4 30.4M966.6 1205.6l30.4 30.4m0 -30.4l-30.4 30.4M970.6 1203.6l30.4 30.4m0 -30.4l-30.4 30.4M974.7 1201.7l30.4 30.4m0 -30.4l-30.4 30.4M978.8 1199.8l30.4 30.4m0 -30.4l-30.4 30.4M982.8 1197.9l30.4 30.4m0 -30.4l-30.4 30.4M986.9 1196.0l30.4 30.4m0 -30.4l-30.4 30.4M991.0 1194.1l30.4 30.4m0 -30.4l-30.4 30.4M995.0 1192.2l30.4 30.4m0 -30.4l-30.4 30.4M999.1 1190.4l30.4 30.4m0 -30.4l-30.4 30.4M1003.2 1188.5l30.4 30.4m0 -30.4l-30.4 30.4M1007.2 1186.6l30.4 30.4m0 -30.4l-30.4 30.4M1011.3 1184.7l30.4 30.4m0 -30.4l-30.4 30.4M1015.4 1182.8l30.4 30.4m0 -30.4l-30.4 30.4M1019.4 1181.0l30.4 30.4m0 -30.4l-30.4 30.4M1023.5 1179.1l30.4 30.4m0 -30.4l-30.4 30.4M1027.6 1177.2l30.4 30.4m0 -30.4l-30.4 30.4M1031.6 1175.3l30.4 30.4m0 -30.4l-30.4 30.4M1035.7 1173.4l30.4 30.4m0 -30.4l-30.4 30.4M1039.8 1171.5l30.4 30.4m0 -30.4l-30.4 30.4M1043.8 1169.6l30.4 30.4m0 -30.4l-30.4 30.4M1047.9 1167.7l30.4 30.4m0 -30.4l-30.4 30.4M1051.9 1165.8l30.4 30.4m0 -30.4l-30.4 30.4M1056.0 1163.8l30.4 30.4m0 -30.4l-30.4 30.4M1060.1 1161.9l30.4 30.4m0 -30.4l-30.4 30.4M1064.1 1159.9l30.4 30.4m0 -30.4l-30.4 30.4M1068.2 1157.9l30.4 30.4m0 -30.4l-30.4 30.4M1072.3 1155.9l30.4 30.4m0 -30.4l-30.4 30.4M1076.3 1153.9l30.4 30.4m0 -30.4l-30.4 30.4M1080.4 1151.9l30.4 30.4m0 -30.4l-30.4 30.4M1084.5 1149.9l30.4 30.4m0 -30.4l-30.4 30.4M1088.5 1147.8l30.4 30.4m0 -30.4l-30.4 30.4M1092.6 1145.7l30.4 30.4m0 -30.4l-30.4 30.4M1096.7 1143.6l30.4 30.4m0 -30.4l-30.4 30.4M1100.7 1141.5l30.4 30.4m0 -30.4l-30.4 30.4M1104.8 1139.3l30.4 30.4m0 -30.4l-30.4 30.4M1108.9 1137.2l30.4 30.4m0 -30.4l-30.4 30.4M1112.9 1135.0l30.4 30.4m0 -30.4l-30.4 30.4M1117.0 1132.8l30.4 30.4m0 -30.4l-30.4 30.4M1121.1 1130.5l30.4 30.4m0 -30.4l-30.4 30.4M1125.1 1128.3l30.4 30.4m0 -30.4l-30.4 30.4M1129.2 1126.0l30.4 30.4m0 -30.4l-30.4 30.4M1133.3 1123.7l30.4 30.4m0 -30.4l-30.4 30.4M1137.3 1121.4l30.4 30.4m0 -30.4l-30.4 30.4M1141.4 1119.1l30.4 30.4m0 -30.4l-30.4 30.4M1145.5 1116.7l30.4 30.4m0 -30.4l-30.4 30.4M1149.5 1114.3l30.4 30.4m0 -30.4l-30.4 30.4M1153.6 1112.0l30.4 30.4m0 -30.4l-30.4 30.4M1157.7 1109.6l30.4 30.4m0 -30.4l-30.4 30.4M1161.7 1107.2l30.4 30.4m0 -30.4l-30.4 30.4M1165.8 1104.7l30.4 30.4m0 -30.4l-30.4 30.4M1169.9 1102.3l30.4 30.4m0 -30.4l-30.4 30.4M1173.9 1099.8l30.4 30.4m0 -30.4l-30.4 30.4M1178.0 1097.4l30.4 30.4m0 -30.4l-30.4 30.4M1182.1 1094.9l30.4 30.4m0 -30.4l-30.4 30.4M1186.1 1092.4l30.4 30.4m0 -30.4l-30.4 30.4M1190.2 1089.9l30.4 30.4m0 -30.4l-30.4 30.4M1194.3 1087.4l30.4 30.4m0 -30.4l-30.4 30.4M1198.3 1084.9l30.4 30.4m0 -30.4l-30.4 30.4M1202.4 1082.4l30.4 30.4m0 -30.4l-30.4 30.4M1206.5 1079.9l30.4 30.4m0 -30.4l-30.4 30.4M1210.5 1077.3l30.4 30.4m0 -30.4l-30.4 30.4M1214.6 1074.8l30.4 30.4m0 -30.4l-30.4 30.4M1218.7 1072.2l30.4 30.4m0 -30.4l-30.4 30.4M1222.7 1069.7l30.4 30.4m0 -30.4l-30.4 30.4M1226.8 1067.1l30.4 30.4m0 -30.4l-30.4 30.4M1230.9 1064.5l30.4 30.4m0 -30.4l-30.4 30.4M1234.9 1062.0l30.4 30.4m0 -30.4l-30.4 30.4M1239.0 1059.4l30.4 30.4m0 -30.4l-30.4 30.4M1243.1 1056.8l30.4 30.4m0 -30.4l-30.4 30.4M1247.1 1054.2l30.4 30.4m0 -30.4l-30.4 30.4M1251.2 1051.7l30.4 30.4m0 -30.4l-30.4 30.4M1255.3 1049.1l30.4 30.4m0 -30.4l-30.4 30.4M1259.3 1046.5l30.4 30.4m0 -30.4l-30.4 30.4M1263.4 1043.9l30.4 30.4m0 -30.4l-30.4 30.4M1267.5 1041.3l30.4 30.4m0 -30.4l-30.4 30.4M1271.5 1038.7l30.4 30.4m0 -30.4l-30.4 30.4M1275.6 1036.0l30.4 30.4m0 -30.4l-30.4 30.4M1279.7 1033.4l30.4 30.4m0 -30.4l-30.4 30.4M1283.7 1030.7l30.4 30.4m0 -30.4l-30.4 30.4M1287.8 1028.1l30.4 30.4m0 -30.4l-30.4 30.4M1291.9 1025.4l30.4 30.4m0 -30.4l-30.4 30.4M1295.9 1022.7l30.4 30.4m0 -30.4l-30.4 30.4M1300.0 1020.0l30.4 30.4m0 -30.4l-30.4 30.4M1304.1 1017.3l30.4 30.4m0 -30.4l-30.4 30.4M1308.1 1014.5l30.4 30.4m0 -30.4l-30.4 30.4M1312.2 1011.8l30.4 30.4m0 -30.4l-30.4 30.4M1316.3 1009.0l30.4 30.4m0 -30.4l-30.4 30.4M1320.3 1006.2l30.4 30.4m0 -30.4l-30.4 30.4M1324.4 1003.3l30.4 30.4m0 -30.4l-30.4 30.4M1328.5 1000.5l30.4 30.4m0 -30.4l-30.4 30.4M1332.5 997.6l30.4 30.4m0 -30.4l-30.4 30.4M1336.6 994.7l30.4 30.4m0 -30.4l-30.4 30.4M1340.7 991.8l30.4 30.4m0 -30.4l-30.4 30.4M1344.7 988.9l30.4 30.4m0 -30.4l-30.4 30.4M1348.8 985.9l30.4 30.4m0 -30.4l-30.4 30.4M1352.9 982.9l30.4 30.4m0 -30.4l-30.4 30.4M1356.9 979.9l30.4 30.4m0 -30.4l-30.4 30.4M1361.0 976.9l30.4 30.4m0 -30.4l-30.4 30.4M1365.0 973.8l30.4 30.4m0 -30.4l-30.4 30.4M1369.1 970.8l30.4 30.4m0 -30.4l-30.4 30.4M1373.2 967.7l30.4 30.4m0 -30.4l-30.4 30.4M1377.2 964.5l30.4 30.4m0 -30.4l-30.4 30.4M1381.3 961.4l30.4 30.4m0 -30.4l-30.4 30.4M1385.4 958.2l30.4 30.4m0 -30.4l-30.4 30.4M1389.4 955.0l30.4 30.4m0 -30.4l-30.4 30.4M1393.5 951.8l30.4 30.4m0 -30.4l-30.4 30.4M1397.6 948.5l30.4 30.4m0 -30.4l-30.4 30.4M1401.6 945.2l30.4 30.4m0 -30.4l-30.4 30.4M1405.7 941.9l30.4 30.4m0 -30.4l-30.4 30.4M1409.8 938.6l30.4 30.4m0 -30.4l-30.4 30.4M1413.8 935.3l30.4 30.4m0 -30.4l-30.4 30.4M1417.9 931.9l30.4 30.4m0 -30.4l-30.4 30.4M1422.0 928.5l30.4 30.4m0 -30.4l-30.4 30.4M1426.0 925.1l30.4 30.4m0 -30.4l-30.4 30.4M1430.1 921.6l30.4 30.4m0 -30.4l-30.4 30.4M1434.2 918.2l30.4 30.4m0 -30.4l-30.4 30.4M1438.2 914.7l30.4 30.4m0 -30.4l-30.4 30.4M1442.3 911.2l30.4 30.4m0 -30.4l-30.4 30.4M1446.4 907.6l30.4 30.4m0 -30.4l-30.4 30.4M1450.4 904.0l30.4 30.4m0 -30.4l-30.4 30.4M1454.5 900.5l30.4 30.4m0 -30.4l-30.4 30.4M1458.6 896.8l30.4 30.4m0 -30.4l-30.4 30.4M1462.6 893.2l30.4 30.4m0 -30.4l-30.4 30.4M1466.7 889.6l30.4 30.4m0 -30.4l-30.4 30.4M1470.8 885.9l30.4 30.4m0 -30.4l-30.4 30.4M1474.8 882.2l30.4 30.4m0 -30.4l-30.4 30.4M1478.9 878.4l30.4 30.4m0 -30.4l-30.4 30.4M1483.0 874.7l30.4 30.4m0 -30.4l-30.4 30.4M1487.0 870.9l30.4 30.4m0 -30.4l-30.4 30.4M1491.1 867.1l30.4 30.4m0 -30.4l-30.4 30.4M1495.2 863.3l30.4 30.4m0 -30.4l-30.4 30.4M1499.2 859.4l30.4 30.4m0 -30.4l-30.4 30.4M1503.3 855.5l30.4 30.4m0 -30.4l-30.4 30.4M1507.4 851.6l30.4 30.4m0 -30.4l-30.4 30.4M1511.4 847.7l30.4 30.4m0 -30.4l-30.4 30.4M1515.5 843.8l30.4 30.4m0 -30.4l-30.4 30.4M1519.6 839.8l30.4 30.4m0 -30.4l-30.4 30.4M1523.6 835.9l30.4 30.4m0 -30.4l-30.4 30.4M1527.7 831.9l30.4 30.4m0 -30.4l-30.4 30.4M1531.8 827.9l30.4 30.4m0 -30.4l-30.4 30.4M1535.8 823.9l30.4 30.4m0 -30.4l-30.4 30.4M1539.9 819.9l30.4 30.4m0 -30.4l-30.4 30.4M1544.0 816.0l30.4 30.4m0 -30.4l-30.4 30.4M1548.0 812.0l30.4 30.4m0 -30.4l-30.4 30.4M1552.1 808.1l30.4 30.4m0 -30.4l-30.4 30.4M1556.2 804.1l30.4 30.4m0 -30.4l-30.4 30.4M1560.2 800.2l30.4 30.4m0 -30.4l-30.4 30.4M1564.3 796.3l30.4 30.4m0 -30.4l-30.4 30.4M1568.4 792.5l30.4 30.4m0 -30.4l-30.4 30.4M1572.4 788.6l30.4 30.4m0 -30.4l-30.4 30.4M1576.5 784.8l30.4 30.4m0 -30.4l-30.4 30.4M1580.6 781.0l30.4 30.4m0 -30.4l-30.4 30.4M1584.6 777.3l30.4 30.4m0 -30.4l-30.4 30.4M1588.7 773.5l30.4 30.4m0 -30.4l-30.4 30.4M1592.8 769.8l30.4 30.4m0 -30.4l-30.4 30.4M1596.8 766.1l30.4 30.4m0 -30.4l-30.4 30.4M1600.9 762.4l30.4 30.4m0 -30.4l-30.4 30.4M1605.0 758.8l30.4 30.4m0 -30.4l-30.4 30.4M1609.0 755.1l30.4 30.4m0 -30.4l-30.4 30.4M1613.1 751.5l30.4 30.4m0 -30.4l-30.4 30.4M1617.2 747.9l30.4 30.4m0 -30.4l-30.4 30.4M1621.2 744.2l30.4 30.4m0 -30.4l-30.4 30.4M1625.3 740.6l30.4 30.4m0 -30.4l-30.4 30.4M1629.4 737.0l30.4 30.4m0 -30.4l-30.4 30.4M1633.4 733.5l30.4 30.4m0 -30.4l-30.4 30.4M1637.5 729.9l30.4 30.4m0 -30.4l-30.4 30.4M1641.6 726.3l30.4 30.4m0 -30.4l-30.4 30.4M1645.6 722.7l30.4 30.4m0 -30.4l-30.4 30.4M1649.7 719.2l30.4 30.4m0 -30.4l-30.4 30.4M1653.8 715.6l30.4 30.4m0 -30.4l-30.4 30.4M1657.8 712.0l30.4 30.4m0 -30.4l-30.4 30.4M1661.9 708.5l30.4 30.4m0 -30.4l-30.4 30.4M1665.9 704.9l30.4 30.4m0 -30.4l-30.4 30.4M1670.0 701.3l30.4 30.4m0 -30.4l-30.4 30.4M1674.1 697.7l30.4 30.4m0 -30.4l-30.4 30.4M1678.1 694.1l30.4 30.4m0 -30.4l-30.4 30.4M1682.2 690.5l30.4 30.4m0 -30.4l-30.4 30.4M1686.3 686.9l30.4 30.4m0 -30.4l-30.4 30.4M1690.3 683.3l30.4 30.4m0 -30.4l-30.4 30.4M1694.4 679.7l30.4 30.4m0 -30.4l-30.4 30.4M1698.5 676.0l30.4 30.4m0 -30.4l-30.4 30.4M1702.5 672.4l30.4 30.4m0 -30.4l-30.4 30.4M1706.6 668.7l30.4 30.4m0 -30.4l-30.4 30.4M1710.7 665.0l30.4 30.4m0 -30.4l-30.4 30.4M1714.7 661.3l30.4 30.4m0 -30.4l-30.4 30.4M1718.8 657.6l30.4 30.4m0 -30.4l-30.4 30.4M1722.9 653.8l30.4 30.4m0 -30.4l-30.4 30.4M1726.9 650.0l30.4 30.4m0 -30.4l-30.4 30.4M1731.0 646.3l30.4 30.4m0 -30.4l-30.4 30.4M1735.1 642.4l30.4 30.4m0 -30.4l-30.4 30.4M1739.1 638.6l30.4 30.4m0 -30.4l-30.4 30.4M1743.2 634.8l30.4 30.4m0 -30.4l-30.4 30.4M1747.3 630.9l30.4 30.4m0 -30.4l-30.4 30.4M1751.3 627.1l30.4 30.4m0 -30.4l-30.4 30.4M1755.4 623.2l30.4 30.4m0 -30.4l-30.4 30.4M1759.5 619.3l30.4 30.4m0 -30.4l-30.4 30.4M1763.5 615.3l30.4 30.4m0 -30.4l-30.4 30.4M1767.6 611.4l30.4 30.4m0 -30.4l-30.4 30.4M1771.7 607.5l30.4 30.4m0 -30.4l-30.4 30.4M1775.7 603.5l30.4 30.4m0 -30.4l-30.4 30.4M1779.8 599.5l30.4 30.4m0 -30.4l-30.4 30.4M1783.9 595.5l30.4 30.4m0 -30.4l-30.4 30.4M1787.9 591.5l30.4 30.4m0 -30.4l-30.4 30.4M1792.0 587.5l30.4 30.4m0 -30.4l-30.4 30.4M1796.1 583.4l30.4 30.4m0 -30.4l-30.4 30.4M1800.1 579.4l30.4 30.4m0 -30.4l-30.4 30.4M1804.2 575.3l30.4 30.4m0 -30.4l-30.4 30.4M1808.3 571.2l30.4 30.4m0 -30.4l-30.4 30.4M1812.3 567.1l30.4 30.4m0 -30.4l-30.4 30.4M1816.4 563.0l30.4 30.4m0 -30.4l-30.4 30.4M1820.5 558.9l30.4 30.4m0 -30.4l-30.4 30.4M1824.5 554.7l30.4 30.4m0 -30.4l-30.4 30.4M1828.6 550.6l30.4 30.4m0 -30.4l-30.4 30.4M1832.7 546.4l30.4 30.4m0 -30.4l-30.4 30.4M1836.7 542.2l30.4 30.4m0 -30.4l-30.4 30.4M1840.8 538.0l30.4 30.4m0 -30.4l-30.4 30.4M1844.9 533.8l30.4 30.4m0 -30.4l-30.4 30.4M1848.9 529.6l30.4 30.4m0 -30.4l-30.4 30.4M1853.0 525.4l30.4 30.4m0 -30.4l-30.4 30.4M1857.1 521.1l30.4 30.4m0 -30.4l-30.4 30.4M1861.1 516.9l30.4 30.4m0 -30.4l-30.4 30.4M1865.2 512.6l30.4 30.4m0 -30.4l-30.4 30.4M1869.3 508.4l30.4 30.4m0 -30.4l-30.4 30.4M1873.3 504.1l30.4 30.4m0 -30.4l-30.4 30.4M1877.4 499.8l30.4 30.4m0 -30.4l-30.4 30.4M1881.5 495.5l30.4 30.4m0 -30.4l-30.4 30.4M1885.5 491.2l30.4 30.4m0 -30.4l-30.4 30.4M1889.6 486.9l30.4 30.4m0 -30.4l-30.4 30.4M1893.7 482.5l30.4 30.4m0 -30.4l-30.4 30.4M1897.7 478.2l30.4 30.4m0 -30.4l-30.4 30.4M1901.8 473.8l30.4 30.4m0 -30.4l-30.4 30.4M1905.9 469.5l30.4 30.4m0 -30.4l-30.4 30.4M1909.9 465.1l30.4 30.4m0 -30.4l-30.4 30.4M1914.0 460.7l30.4 30.4m0 -30.4l-30.4 30.4M1918.1 456.4l30.4 30.4m0 -30.4l-30.4 30.4M1922.1 452.0l30.4 30.4m0 -30.4l-30.4 30.4M1926.2 447.6l30.4 30.4m0 -30.4l-30.4 30.4M1930.3 443.2l30.4 30.4m0 -30.4l-30.4 30.4M1934.3 438.8l30.4 30.4m0 -30.4l-30.4 30.4M1938.4 434.3l30.4 30.4m0 -30.4l-30.4 30.4M1942.5 429.9l30.4 30.4m0 -30.4l-30.4 30.4M1946.5 425.5l30.4 30.4m0 -30.4l-30.4 30.4M1950.6 421.0l30.4 30.4m0 -30.4l-30.4 30.4M1954.7 416.6l30.4 30.4m0 -30.4l-30.4 30.4M1958.7 412.1l30.4 30.4m0 -30.4l-30.4 30.4M1962.8 407.7l30.4 30.4m0 -30.4l-30.4 30.4M1966.8 403.2l30.4 30.4m0 -30.4l-30.4 30.4M1970.9 398.7l30.4 30.4m0 -30.4l-30.4 30.4M1975.0 394.3l30.4 30.4m0 -30.4l-30.4 30.4M1979.0 389.8l30.4 30.4m0 -30.4l-30.4 30.4M1983.1 385.3l30.4 30.4m0 -30.4l-30.4 30.4M1987.2 380.8l30.4 30.4m0 -30.4l-30.4 30.4M1991.2 376.3l30.4 30.4m0 -30.4l-30.4 30.4M1995.3 371.8l30.4 30.4m0 -30.4l-30.4 30.4M1999.4 367.3l30.4 30.4m0 -30.4l-30.4 30.4M2003.4 362.8l30.4 30.4m0 -30.4l-30.4 30.4M2007.5 358.3l30.4 30.4m0 -30.4l-30.4 30.4M2011.6 353.8l30.4 30.4m0 -30.4l-30.4 30.4M2015.6 349.3l30.4 30.4m0 -30.4l-30.4 30.4M2019.7 344.7l30.4 30.4m0 -30.4l-30.4 30.4M2023.8 340.2l30.4 30.4m0 -30.4l-30.4 30.4M2027.8 335.7l30.4 30.4m0 -30.4l-30.4 30.4M2031.9 331.2l30.4 30.4m0 -30.4l-30.4 30.4M2036.0 326.6l30.4 30.4m0 -30.4l-30.4 30.4M2040.0 322.1l30.4 30.4m0 -30.4l-30.4 30.4M2044.1 317.6l30.4 30.4m0 -30.4l-30.4 30.4M2048.2 313.0l30.4 30.4m0 -30.4l-30.4 30.4M2052.2 308.5l30.4 30.4m0 -30.4l-30.4 30.4M2056.3 304.0l30.4 30.4m0 -30.4l-30.4 30.4M2060.4 299.4l30.4 30.4m0 -30.4l-30.4 30.4M2064.4 294.9l30.4 30.4m0 -30.4l-30.4 30.4M2068.5 290.3l30.4 30.4m0 -30.4l-30.4 30.4M2072.6 285.8l30.4 30.4m0 -30.4l-30.4 30.4M2076.6 281.3l30.4 30.4m0 -30.4l-30.4 30.4M2080.7 276.7l30.4 30.4m0 -30.4l-30.4 30.4M2084.8 272.2l30.4 30.4m0 -30.4l-30.4 30.4M2088.8 267.7l30.4 30.4m0 -30.4l-30.4 30.4M2092.9 263.1l30.4 30.4m0 -30.4l-30.4 30.4M2097.0 258.6l30.4 30.4m0 -30.4l-30.4 30.4M2101.0 254.0l30.4 30.4m0 -30.4l-30.4 30.4M2105.1 249.5l30.4 30.4m0 -30.4l-30.4 30.4M2109.2 245.0l30.4 30.4m0 -30.4l-30.4 30.4M2113.2 240.4l30.4 30.4m0 -30.4l-30.4 30.4M2117.3 235.9l30.4 30.4m0 -30.4l-30.4 30.4"/>
<path fill="none" stroke="#00e88c" stroke-width="14.35" d="M287.5 1864.2l30.4 30.4m0 -30.4l-30.4 30.4M291.6 1864.3l30.4 30.4m0 -30.4l-30.4 30.4M295.6 1864.3l30.4 30.4m0 -30.4l-30.4 30.4M299.7 1864.3l30.4 30.4m0 -30.4l-30.4 30.4M303.8 1864.3l30.4 30.4m0 -30.4l-30.4 30.4M307.8 1864.2l30.4 30.4m0 -30.4l-30.4 30.4M311.9 1864.1l30.4 30.4m0 -30.4l-30.4 30.4M316.0 1863.9l30.4 30.4m0 -30.4l-30.4 30.4M320.0 1863.7l30.4 30.4m0 -30.4l-30.4 30.4M324.1 1863.5l30.4 30.4m0 -30.4l-30.4 30.4M328.2 1863.2l30.4 30.4m0 -30.4l-30.4 30.4M332.2 1862.9l30.4 30.4m0 -30.4l-30.4 30.4M336.3 1862.5l30.4 30.4m0 -30.4l-30.4 30.4M340.4 1862.1l30.4 30.4m0 -30.4l-30.4 30.4M344.4 1861.7l30.4 30.4m0 -30.4l-30.4 30.4M348.5 1861.3l30.4 30.4m0 -30.4l-30.4 30.4M352.6 1860.8l30.4 30.4m0 -30.4l-30.4 30.4M356.6 1860.3l30.4 30.4m0 -30.4l-30.4 30.4M360.7 1859.7l30.4 30.4m0 -30.4l-30.4 30.4M364.8 1859.2l30.4 30.4m0 -30.4l-30.4 30.4M368.8 1858.5l30.4 30.4m0 -30.4l-30.4 30.4M372.9 1857.9l30.4 30.4m0 -30.4l-30.4 30.4M377.0 1857.3l30.4 30.4m0 -30.4l-30.4 30.4M381.0 1856.6l30.4 30.4m0 -30.4l-30.4 30.4M385.1 1855.8l30.4 30.4m0 -30.4l-30.4 30.4M389.2 1855.1l30.4 30.4m0 -30.4l-30.4 30.4M393.2 1854.3l30.4 30.4m0 -30.4l-30.4 30.4M397.3 1853.5l30.4 30.4m0 -30.4l-30.4 30.4M401.4 1852.7l30.4 30.4m0 -30.4l-30.4 30.4M405.4 1851.9l30.4 30.4m0 -30.4l-30.4 30.4M409.5 1851.0l30.4 30.4m0 -30.4l-30.4 30.4M413.6 1850.2l30.4 30.4m0 -30.4l-30.4 30.4M417.6 1849.2l30.4 30.4m0 -30.4l-30.4 30.4M421.7 1848.3l30.4 30.4m0 -30.4l-30.4 30.4M425.8 1847.4l30.4 30.4m0 -30.4l-30.4 30.4M429.8 1846.4l30.4 30.4m0 -30.4l-30.4 30.4M433.9 1845.5l30.4 30.4m0 -30.4l-30.4 30.4M438.0 1844.5l30.4 30.4m0 -30.4l-30.4 30.4M442.0 1843.4l30.4 30.4m0 -30.4l-30.4 30.4M446.1 1842.4l30.4 30.4m0 -30.4l-30.4 30.4M450.1 1841.4l30.4 30.4m0 -30.4l-30.4 30.4M454.2 1840.3l30.4 30.4m0 -30.4l-30.4 30.4M458.3 1839.3l30.4 30.4m0 -30.4l-30.4 30.4M462.3 1838.2l30.4 30.4m0 -30.4l-30.4 30.4M466.4 1837.1l30.4 30.4m0 -30.4l-30.4 30.4M470.5 1836.0l30.4 30.4m0 -30.4l-30.4 30.4M474.5 1834.9l30.4 30.4m0 -30.4l-30.4 30.4M478.6 1833.8l30.4 30.4m0 -30.4l-30.4 30.4M482.7 1832.6l30.4 30.4m0 -30.4l-30.4 30.4M486.7 1831.5l30.4 30.4m0 -30.4l-30.4 30.4M490.8 1830.3l30.4 30.4m0 -30.4l-30.4 30.4M494.9 1829.2l30.4 30.4m0 -30.4l-30.4 30.4M498.9 1828.0l30.4 30.4m0 -30.4l-30.4 30.4M503.0 1826.9l30.4 30.4m0 -30.4l-30.4 30.4M507.1 1825.7l30.4 30.4m0 -30.4l-30.4 30.4M511.1 1824.5l30.4 30.4m0 -30.4l-30.4 30.4M515.2 1823.4l30.4 30.4m0 -30.4l-30.4 30.4M519.3 1822.2l30.4 30.4m0 -30.4l-30.4 30.4M523.3 1821.0l30.4 30.4m0 -30.4l-30.4 30.4M527.4 1819.8l30.4 30.4m0 -30.4l-30.4 30.4M531.5 1818.7l30.4 30.4m0 -30.4l-30.4 30.4M535.5 1817.5l30.4 30.4m0 -30.4l-30.4 30.4M539.6 1816.3l30.4 30.4m0 -30.4l-30.4 30.4M543.7 1815.1l30.4 30.4m0 -30.4l-30.4 30.4M547.7 1814.0l30.4 30.4m0 -30.4l-30.4 30.4M551.8 1812.8l30.4 30.4m0 -30.4l-30.4 30.4M555.9 1811.7l30.4 30.4m0 -30.4l-30.4 30.4M559.9 1810.5l30.4 30.4m0 -30.4l-30.4 30.4M564.0 1809.4l30.4 30.4m0 -30.4l-30.4 30.4M568.1 1808.2l30.4 30.4m0 -30.4l-30.4 30.4M572.1 1807.1l30.4 30.4m0 -30.4l-30.4 30.4M576.2 1806.0l30.4 30.4m0 -30.4l-30.4 30.4M580.3 1804.8l30.4 30.4m0 -30.4l-30.4 30.4M584.3 1803.7l30.4 30.4m0 -30.4l-30.4 30.4M588.4 1802.6l30.4 30.4m0 -30.4l-30.4 30.4M592.5 1801.5l30.4 30.4m0 -30.4l-30.4 30.4M596.5 1800.4l30.4 30.4m0 -30.4l-30.4 30.4M600.6 1799.3l30.4 30.4m0 -30.4l-30.4 30.4M604.7 1798.2l30.4 30.4m0 -30.4l-30.4 30.4M608.7 1797.1l30.4 30.4m0 -30.4l-30.4 30.4M612.8 1796.0l30.4 30.4m0 -30.4l-30.4 30.4M616.9 1795.0l30.4 30.4m0 -30.4l-30.4 30.4M620.9 1793.9l30.4 30.4m0 -30.4l-30.4 30.4M625.0 1792.8l30.4 30.4m0 -30.4l-30.4 30.4M629.1 1791.8l30.4 30.4m0 -30.4l-30.4 30.4M633.1 1790.7l30.4 30.4m0 -30.4l-30.4 30.4M637.2 1789.7l30.4 30.4m0 -30.4l-30.4 30.4M641.3 1788.7l30.4 30.4m0 -30.4l-30.4 30.4M645.3 1787.6l30.4 30.4m0 -30.4l-30.4 30.4M649.4 1786.6l30.4 30.4m0 -30.4l-30.4 30.4M653.5 1785.6l30.4 30.4m0 -30.4l-30.4 30.4M657.5 1784.6l30.4 30.4m0 -30.4l-30.4 30.4M661.6 1783.6l30.4 30.4m0 -30.4l-30.4 30.4M665.7 1782.6l30.4 30.4m0 -30.4l-30.4 30.4M669.7 1781.6l30.4 30.4m0 -30.4l-30.4 30.4M673.8 1780.6l30.4 30.4m0 -30.4l-30.4 30.4M677.9 1779.6l30.4 30.4m0 -30.4l-30.4 30.4M681.9 1778.7l30.4 30.4m0 -30.4l-30.4 30.4M686.0 1777.7l30.4 30.4m0 -30.4l-30.4 30.4M690.1 1776.7l30.4 30.4m0 -30.4l-30.4 30.4M694.1 1775.8l30.4 30.4m0 -30.4l-30.4 30.4M698.2 1774.8l30.4 30.4m0 -30.4l-30.4 30.4M702.3 1773.9l30.4 30.4m0 -30.4l-30.4 30.4M706.3 1773.0l30.4 30.4m0 -30.4l-30.4 30.4M710.4 1772.0l30.4 30.4m0 -30.4l-30.4 30.4M714.5 1771.1l30.4 30.4m0 -30.4l-30.4 30.4M718.5 1770.2l30.4 30.4m0 -30.4l-30.4 30.4M722.6 1769.3l30.4 30.4m0 -30.4l-30.4 30.4M726.7 1768.4l30.4 30.4m0 -30.4l-30.4 30.4M730.7 1767.5l30.4 30.4m0 -30.4l-30.4 30.4M734.8 1766.6l30.4 30.4m0 -30.4l-30.4 30.4M738.9 1765.8l30.4 30.4m0 -30.4l-30.4 30.4M742.9 1764.9l30.4 30.4m0 -30.4l-30.4 30.4M747.0 1764.0l30.4 30.4m0 -30.4l-30.4 30.4M751.0 1763.2l30.4 30.4m0 -30.4l-30.4 30.4M755.1 1762.3l30.4 30.4m0 -30.4l-30.4 30.4M759.2 1761.5l30.4 30.4m0 -30.4l-30.4 30.4M763.2 1760.7l30.4 30.4m0 -30.4l-30.4 30.4M767.3 1759.9l30.4 30.4m0 -30.4l-30.4 30.4M771.4 1759.0l30.4 30.4m0 -30.4l-30.4 30.4M775.4 1758.2l30.4 30.4m0 -30.4l-30.4 30.4M779.5 1757.4l30.4 30.4m0 -30.4l-30.4 30.4M783.6 1756.6l30.4 30.4m0 -30.4l-30.4 30.4M787.6 1755.9l30.4 30.4m0 -30.4l-30.4 30.4M791.7 1755.1l30.4 30.4m0 -30.4l-30.4 30.4M795.8 1754.3l30.4 30.4m0 -30.4l-30.4 30.4M799.8 1753.5l30.4 30.4m0 -30.4l-30.4 30.4M803.9 1752.8l30.4 30.4m0 -30.4l-30.4 30.4M808.0 1752.0l30.4 30.4m0 -30.4l-30.4 30.4M812.0 1751.3l30.4 30.4m0 -30.4l-30.4 30.4M816.1 1750.6l30.4 30.4m0 -30.4l-30.4 30.4M820.2 1749.8l30.4 30.4m0 -30.4l-30.4 30.4M824.2 1749.1l30.4 30.4m0 -30.4l-30.4 30.4M828.3 1748.4l30.4 30.4m0 -30.4l-30.4 30.4M832.4 1747.7l30.4 30.4m0 -30.4l-30.4 30.4M836.4 1747.0l30.4 30.4m0 -30.4l-30.4 30.4M840.5 1746.3l30.4 30.4m0 -30.4l-30.4 30.4M844.6 1745.6l30.4 30.4m0 -30.4l-30.4 30.4M848.6 1744.9l30.4 30.4m0 -30.4l-30.4 30.4M852.7 1744.2l30.4 30.4m0 -30.4l-30.4 30.4M856.8 1743.6l30.4 30.4m0 -30.4l-30.4 30.4M860.8 1742.9l30.4 30.4m0 -30.4l-30.4 30.4M864.9 1742.2l30.4 30.4m0 -30.4l-30.4 30.4M869.0 1741.5l30.4 30.4m0 -30.4l-30.4 30.4M873.0 1740.8l30.4 30.4m0 -30.4l-30.4 30.4M877.1 1740.2l30.4 30.4m0 -30.4l-30.4 30.4M881.2 1739.5l30.4 30.4m0 -30.4l-30.4 30.4M885.2 1738.8l30.4 30.4m0 -30.4l-30.4 30.4M889.3 1738.2l30.4 30.4m0 -30.4l-30.4 30.4M893.4 1737.5l30.4 30.4m0 -30.4l-30.4 30.4M897.4 1736.8l30.4 30.4m0 -30.4l-30.4 30.4M901.5 1736.1l30.4 30.4m0 -30.4l-30.4 30.4M905.6 1735.5l30.4 30.4m0 -30.4l-30.4 30.4M909.6 1734.8l30.4 30.4m0 -30.4l-30.4 30.4M913.7 1734.1l30.4 30.4m0 -30.4l-30.4 30.4M917.8 1733.4l30.4 30.4m0 -30.4l-30.4 30.4M921.8 1732.7l30.4 30.4m0 -30.4l-30.4 30.4M925.9 1732.1l30.4 30.4m0 -30.4l-30.4 30.4M930.0 1731.4l30.4 30.4m0 -30.4l-30.4 30.4M934.0 1730.7l30.4 30.4m0 -30.4l-30.4 30.4M938.1 1730.0l30.4 30.4m0 -30.4l-30.4 30.4M942.2 1729.3l30.4 30.4m0 -30.4l-30.4 30.4M946.2 1728.5l30.4 30.4m0 -30.4l-30.4 30.4M950.3 1727.8l30.4 30.4m0 -30.4l-30.4 30.4M954.4 1727.1l30.4 30.4m0 -30.4l-30.4 30.4M958.4 1726.4l30.4 30.4m0 -30.4l-30.4 30.4M962.5 1725.6l30.4 30.4m0 -30.4l-30.4 30.4M966.6 1724.9l30.4 30.4m0 -30.4l-30.4 30.4M970.6 1724.2l30.4 30.4m0 -30.4l-30.4 30.4M974.7 1723.4l30.4 30.4m0 -30.4l-30.4 30.4M978.8 1722.6l30.4 30.4m0 -30.4l-30.4 30.4M982.8 1721.9l30.4 30.4m0 -30.4l-30.4 30.4M986.9 1721.1l30.4 30.4m0 -30.4l-30.4 30.4M991.0 1720.3l30.4 30.4m0 -30.4l-30.4 30.4M995.0 1719.5l30.4 30.4m0 -30.4l-30.4 30.4M999.1 1718.8l30.4 30.4m0 -30.4l-30.4 30.4M1003.2 1718.0l30.4 30.4m0 -30.4l-30.4 30.4M1007.2 1717.2l30.4 30.4m0 -30.4l-30.4 30.4M1011.3 1716.4l30.4 30.4m0 -30.4l-30.4 30.4M1015.4 1715.6l30.4 30.4m0 -30.4l-30.4 30.4M1019.4 1714.8l30.4 30.4m0 -30.4l-30.4 30.4M1023.5 1714.0l30.4 30.4m0 -30.4l-30.4 30.4M1027.6 1713.2l30.4 30.4m0 -30.4l-30.4 30.4M1031.6 1712.5l30.4 30.4m0 -30.4l-30.4 30.4M1035.7 1711.7l30.4 30.4m0 -30.4l-30.4 30.4M1039.8 1710.9l30.4 30.4m0 -30.4l-30.4 30.4M1043.8 1710.1l30.4 30.4m0 -30.4l-30.4 30.4M1047.9 1709.4l30.4 30.4m0 -30.4l-30.4 30.4M1051.9 1708.6l30.4 30.4m0 -30.4l-30.4 30.4M1056.0 1707.8l30.4 30.4m0 -30.4l-30.4 30.4M1060.1 1707.1l30.4 30.4m0 -30.4l-30.4 30.4M1064.1 1706.3l30.4 30.4m0 -30.4l-30.4 30.4M1068.2 1705.6l30.4 30.4m0 -30.4l-30.4 30.4M1072.3 1704.8l30.4 30.4m0 -30.4l-30.4 30.4M1076.3 1704.1l30.4 30.4m0 -30.4l-30.4 30.4M1080.4 1703.4l30.4 30.4m0 -30.4l-30.4 30.4M1084.5 1702.7l30.4 30.4m0 -30.4l-30.4 30.4M1088.5 1702.0l30.4 30.4m0 -30.4l-30.4 30.4M1092.6 1701.3l30.4 30.4m0 -30.4l-30.4 30.4M1096.7 1700.6l30.4 30.4m0 -30.4l-30.4 30.4M1100.7 1699.9l30.4 30.4m0 -30.4l-30.4 30.4M1104.8 1699.3l30.4 30.4m0 -30.4l-30.4 30.4M1108.9 1698.6l30.4 30.4m0 -30.4l-30.4 30.4M1112.9 1698.0l30.4 30.4m0 -30.4l-30.4 30.4M1117.0 1697.3l30.4 30.4m0 -30.4l-30.4 30.4M1121.1 1696.7l30.4 30.4m0 -30.4l-30.4 30.4M1125.1 1696.1l30.4 30.4m0 -30.4l-30.4 30.4M1129.2 1695.4l30.4 30.4m0 -30.4l-30.4 30.4M1133.3 1694.8l30.4 30.4m0 -30.4l-30.4 30.4M1137.3 1694.1l30.4 30.4m0 -30.4l-30.4 30.4M1141.4 1693.5l30.4 30.4m0 -30.4l-30.4 30.4M1145.5 1692.9l30.4 30.4m0 -30.4l-30.4 30.4M1149.5 1692.2l30.4 30.4m0 -30.4l-30.4 30.4M1153.6 1691.6l30.4 30.4m0 -30.4l-30.4 30.4M1157.7 1691.0l30.4 30.4m0 -30.4l-30.4 30.4M1161.7 1690.3l30.4 30.4m0 -30.4l-30.4 30.4M1165.8 1689.7l30.4 30.4m0 -30.4l-30.4 30.4M1169.9 1689.0l30.4 30.4m0 -30.4l-30.4 30.4M1173.9 1688.3l30.4 30.4m0 -30.4l-30.4 30.4M1178.0 1687.7l30.4 30.4m0 -30.4l-30.4 30.4M1182.1 1687.0l30.4 30.4m0 -30.4l-30.4 30.4M1186.1 1686.3l30.4 30.4m0 -30.4l-30.4 30.4M1190.2 1685.6l30.4 30.4m0 -30.4l-30.4 30.4M1194.3 1684.9l30.4 30.4m0 -30.4l-30.4 30.4M1198.3 1684.1l30.4 30.4m0 -30.4l-30.4 30.4M1202.4 1683.4l30.4 30.4m0 -30.4l-30.4 30.4M1206.5 1682.6l30.4 30.4m0 -30.4l-30.4 30.4M1210.5 1681.9l30.4 30.4m0 -30.4l-30.4 30.4M1214.6 1681.1l30.4 30.4m0 -30.4l-30.4 30.4M1218.7 1680.3l30.4 30.4m0 -30.4l-30.4 30.4M1222.7 1679.4l30.4 30.4m0 -30.4l-30.4 30.4M1226.8 1678.6l30.4 30.4m0 -30.4l-30.4 30.4M1230.9 1677.8l30.4 30.4m0 -30.4l-30.4 30.4M1234.9 1676.9l30.4 30.4m0 -30.4l-30.4 30.4M1239.0 1676.0l30.4 30.4m0 -30.4l-30.4 30.4M1243.1 1675.1l30.4 30.4m0 -30.4l-30.4 30.4M1247.1 1674.1l30.4 30.4m0 -30.4l-30.4 30.4M1251.2 1673.2l30.4 30.4m0 -30.4l-30.4 30.4M1255.3 1672.2l30.4 30.4m0 -30.4l-30.4 30.4M1259.3 1671.2l30.4 30.4m0 -30.4l-30.4 30.4M1263.4 1670.2l30.4 30.4m0 -30.4l-30.4 30.4M1267.5 1669.2l30.4 30.4m0 -30.4l-30.4 30.4M1271.5 1668.2l30.4 30.4m0 -30.4l-30.4 30.4M1275.6 1667.1l30.4 30.4m0 -30.4l-30.4 30.4M1279.7 1666.1l30.4 30.4m0 -30.4l-30.4 30.4M1283.7 1665.0l30.4 30.4m0 -30.4l-30.4 30.4M1287.8 1663.9l30.4 30.4m0 -30.4l-30.4 30.4M1291.9 1662.8l30.4 30.4m0 -30.4l-30.4 30.4M1295.9 1661.7l30.4 30.4m0 -30.4l-30.4 30.4M1300.0 1660.5l30.4 30.4m0 -30.4l-30.4 30.4M1304.1 1659.4l30.4 30.4m0 -30.4l-30.4 30.4M1308.1 1658.2l30.4 30.4m0 -30.4l-30.4 30.4M1312.2 1657.0l30.4 30.4m0 -30.4l-30.4 30.4M1316.3 1655.8l30.4 30.4m0 -30.4l-30.4 30.4M1320.3 1654.6l30.4 30.4m0 -30.4l-30.4 30.4M1324.4 1653.4l30.4 30.4m0 -30.4l-30.4 30.4M1328.5 1652.2l30.4 30.4m0 -30.4l-30.4 30.4M1332.5 1650.9l30.4 30.4m0 -30.4l-30.4 30.4M1336.6 1649.7l30.4 30.4m0 -30.4l-30.4 30.4M1340.7 1648.4l30.4 30.4m0 -30.4l-30.4 30.4M1344.7 1647.1l30.4 30.4m0 -30.4l-30.4 30.4M1348.8 1645.8l30.4 30.4m0 -30.4l-30.4 30.4M1352.9 1644.5l30.4 30.4m0 -30.4l-30.4 30.4M1356.9 1643.2l30.4 30.4m0 -30.4l-30.4 30.4M1361.0 1641.9l30.4 30.4m0 -30.4l-30.4 30.4M1365.0 1640.5l30.4 30.4m0 -30.4l-30.4 30.4M1369.1 1639.2l30.4 30.4m0 -30.4l-30.4 30.4M1373.2 1637.8l30.4 30.4m0 -30.4l-30.4 30.4M1377.2 1636.4l30.4 30.4m0 -30.4l-30.4 30.4M1381.3 1635.1l30.4 30.4m0 -30.4l-30.4 30.4M1385.4 1633.7l30.4 30.4m0 -30.4l-30.4 30.4M1389.4 1632.3l30.4 30.4m0 -30.4l-30.4 30.4M1393.5 1630.9l30.4 30.4m0 -30.4l-30.4 30.4M1397.6 1629.4l30.4 30.4m0 -30.4l-30.4 30.4M1401.6 1628.0l30.4 30.4m0 -30.4l-30.4 30.4M1405.7 1626.6l30.4 30.4m0 -30.4l-30.4 30.4M1409.8 1625.1l30.4 30.4m0 -30.4l-30.4 30.4M1413.8 1623.7l30.4 30.4m0 -30.4l-30.4 30.4M1417.9 1622.2l30.4 30.4m0 -30.4l-30.4 30.4M1422.0 1620.8l30.4 30.4m0 -30.4l-30.4 30.4M1426.0 1619.3l30.4 30.4m0 -30.4l-30.4 30.4M1430.1 1617.8l30.4 30.4m0 -30.4l-30.4 30.4M1434.2 1616.3l30.4 30.4m0 -30.4l-30.4 30.4M1438.2 1614.8l30.4 30.4m0 -30.4l-30.4 30.4M1442.3 1613.4l30.4 30.4m0 -30.4l-30.4 30.4M1446.4 1611.9l30.4 30.4m0 -30.4l-30.4 30.4M1450.4 1610.3l30.4 30.4m0 -30.4l-30.4 30.4M1454.5 1608.8l30.4 30.4m0 -30.4l-30.4 30.4M1458.6 1607.3l30.4 30.4m0 -30.4l-30.4 30.4M1462.6 1605.8l30.4 30.4m0 -30.4l-30.4 30.4M1466.7 1604.3l30.4 30.4m0 -30.4l-30.4 30.4M1470.8 1602.7l30.4 30.4m0 -30.4l-30.4 30.4M1474.8 1601.2l30.4 30.4m0 -30.4l-30.4 30.4M1478.9 1599.7l30.4 30.4m0 -30.4l-30.4 30.4M1483.0 1598.1l30.4 30.4m0 -30.4l-30.4 30.4M1487.0 1596.6l30.4 30.4m0 -30.4l-30.4 30.4M1491.1 1595.0l30.4 30.4m0 -30.4l-30.4 30.4M1495.2 1593.5l30.4 30.4m0 -30.4l-30.4 30.4M1499.2 1591.9l30.4 30.4m0 -30.4l-30.4 30.4M1503.3 1590.3l30.4 30.4m0 -30.4l-30.4 30.4M1507.4 1588.8l30.4 30.4m0 -30.4l-30.4 30.4M1511.4 1587.2l30.4 30.4m0 -30.4l-30.4 30.4M1515.5 1585.7l30.4 30.4m0 -30.4l-30.4 30.4M1519.6 1584.1l30.4 30.4m0 -30.4l-30.4 30.4M1523.6 1582.5l30.4 30.4m0 -30.4l-30.4 30.4M1527.7 1581.0l30.4 30.4m0 -30.4l-30.4 30.4M1531.8 1579.4l30.4 30.4m0 -30.4l-30.4 30.4M1535.8 1577.8l30.4 30.4m0 -30.4l-30.4 30.4M1539.9 1576.2l30.4 30.4m0 -30.4l-30.4 30.4M1544.0 1574.7l30.4 30.4m0 -30.4l-30.4 30.4M1548.0 1573.1l30.4 30.4m0 -30.4l-30.4 30.4M1552.1 1571.5l30.4 30.4m0 -30.4l-30.4 30.4M1556.2 1569.9l30.4 30.4m0 -30.4l-30.4 30.4M1560.2 1568.3l30.4 30.4m0 -30.4l-30.4 30.4M1564.3 1566.7l30.4 30.4m0 -30.4l-30.4 30.4M1568.4 1565.1l30.4 30.4m0 -30.4l-30.4 30.4M1572.4 1563.6l30.4 30.4m0 -30.4l-30.4 30.4M1576.5 1562.0l30.4 30.4m0 -30.4l-30.4 30.4M1580.6 1560.4l30.4 30.4m0 -30.4l-30.4 30.4M1584.6 1558.8l30.4 30.4m0 -30.4l-30.4 30.4M1588.7 1557.2l30.4 30.4m0 -30.4l-30.4 30.4M1592.8 1555.6l30.4 30.4m0 -30.4l-30.4 30.4M1596.8 1554.0l30.4 30.4m0 -30.4l-30.4 30.4M1600.9 1552.3l30.4 30.4m0 -30.4l-30.4 30.4M1605.0 1550.7l30.4 30.4m0 -30.4l-30.4 30.4M1609.0 1549.1l30.4 30.4m0 -30.4l-30.4 30.4M1613.1 1547.5l30.4 30.4m0 -30.4l-30.4 30.4M1617.2 1545.9l30.4 30.4m0 -30.4l-30.4 30.4M1621.2 1544.3l30.4 30.4m0 -30.4l-30.4 30.4M1625.3 1542.6l30.4 30.4m0 -30.4l-30.4 30.4M1629.4 1541.0l30.4 30.4m0 -30.4l-30.4 30.4M1633.4 1539.4l30.4 30.4m0 -30.4l-30.4 30.4M1637.5 1537.8l30.4 30.4m0 -30.4l-30.4 30.4M1641.6 1536.1l30.4 30.4m0 -30.4l-30.4 30.4M1645.6 1534.5l30.4 30.4m0 -30.4l-30.4 30.4M1649.7 1532.9l30.4 30.4m0 -30.4l-30.4 30.4M1653.8 1531.2l30.4 30.4m0 -30.4l-30.4 30.4M1657.8 1529.6l30.4 30.4m0 -30.4l-30.4 30.4M1661.9 1527.9l30.4 30.4m0 -30.4l-30.4 30.4M1665.9 1526.3l30.4 30.4m0 -30.4l-30.4 30.4M1670.0 1524.6l30.4 30.4m0 -30.4l-30.4 30.4M1674.1 1523.0l30.4 30.4m0 -30.4l-30.4 30.4M1678.1 1521.3l30.4 30.4m0 -30.4l-30.4 30.4M1682.2 1519.7l30.4 30.4m0 -30.4l-30.4 30.4M1686.3 1518.0l30.4 30.4m0 -30.4l-30.4 30.4M1690.3 1516.3l30.4 30.4m0 -30.4l-30.4 30.4M1694.4 1514.7l30.4 30.4m0 -30.4l-30.4 30.4M1698.5 1513.0l30.4 30.4m0 -30.4l-30.4 30.4M1702.5 1511.3l30.4 30.4m0 -30.4l-30.4 30.4M1706.6 1509.7l30.4 30.4m0 -30.4l-30.4 30.4M1710.7 1508.0l30.4 30.4m0 -30.4l-30.4 30.4M1714.7 1506.3l30.4 30.4m0 -30.4l-30.4 30.4M1718.8 1504.6l30.4 30.4m0 -30.4l-30.4 30.4M1722.9 1502.9l30.4 30.4m0 -30.4l-30.4 30.4M1726.9 1501.2l30.4 30.4m0 -30.4l-30.4 30.4M1731.0 1499.5l30.4 30.4m0 -30.4l-30.4 30.4M1735.1 1497.9l30.4 30.4m0 -30.4l-30.4 30.4M1739.1 1496.2l30.4 30.4m0 -30.4l-30.4 30.4M1743.2 1494.5l30.4 30.4m0 -30.4l-30.4 30.4M1747.3 1492.7l30.4 30.4m0 -30.4l-30.4 30.4M1751.3 1491.0l30.4 30.4m0 -30.4l-30.4 30.4M1755.4 1489.3l30.4 30.4m0 -30.4l-30.4 30.4M1759.5 1487.6l30.4 30.4m0 -30.4l-30.4 30.4M1763.5 1485.9l30.4 30.4m0 -30.4l-30.4 30.4M1767.6 1484.2l30.4 30.4m0 -30.4l-30.4 30.4M1771.7 1482.5l30.4 30.4m0 -30.4l-30.4 30.4M1775.7 1480.7l30.4 30.4m0 -30.4l-30.4 30.4M1779.8 1479.0l30.4 30.4m0 -30.4l-30.4 30.4M1783.9 1477.3l30.4 30.4m0 -30.4l-30.4 30.4M1787.9 1475.5l30.4 30.4m0 -30.4l-30.4 30.4M1792.0 1473.8l30.4 30.4m0 -30.4l-30.4 30.4M1796.1 1472.1l30.4 30.4m0 -30.4l-30.4 30.4M1800.1 1470.3l30.4 30.4m0 -30.4l-30.4 30.4M1804.2 1468.6l30.4 30.4m0 -30.4l-30.4 30.4M1808.3 1466.8l30.4 30.4m0 -30.4l-30.4 30.4M1812.3 1465.1l30.4 30.4m0 -30.4l-30.4 30.4M1816.4 1463.3l30.4 30.4m0 -30.4l-30.4 30.4M1820.5 1461.6l30.4 30.4m0 -30.4l-30.4 30.4M1824.5 1459.8l30.4 30.4m0 -30.4l-30.4 30.4M1828.6 1458.0l30.4 30.4m0 -30.4l-30.4 30.4M1832.7 1456.3l30.4 30.4m0 -30.4l-30.4 30.4M1836.7 1454.5l30.4 30.4m0 -30.4l-30.4 30.4M1840.8 1452.7l30.4 30.4m0 -30.4l-30.4 30.4M1844.9 1450.9l30.4 30.4m0 -30.4l-30.4 30.4M1848.9 1449.2l30.4 30.4m0 -30.4l-30.4 30.4M1853.0 1447.4l30.4 30.4m0 -30.4l-30.4 30.4M1857.1 1445.6l30.4 30.4m0 -30.4l-30.4 30.4M1861.1 1443.8l30.4 30.4m0 -30.4l-30.4 30.4M1865.2 1442.0l30.4 30.4m0 -30.4l-30.4 30.4M1869.3 1440.2l30.4 30.4m0 -30.4l-30.4 30.4M1873.3 1438.4l30.4 30.4m0 -30.4l-30.4 30.4M1877.4 1436.6l30.4 30.4m0 -30.4l-30.4 30.4M1881.5 1434.8l30.4 30.4m0 -30.4l-30.4 30.4M1885.5 1433.0l30.4 30.4m0 -30.4l-30.4 30.4M1889.6 1431.1l30.4 30.4m0 -30.4l-30.4 30.4M1893.7 1429.3l30.4 30.4m0 -30.4l-30.4 30.4M1897.7 1427.5l30.4 30.4m0 -30.4l-30.4 30.4M1901.8 1425.7l30.4 30.4m0 -30.4l-30.4 30.4M1905.9 1423.8l30.4 30.4m0 -30.4l-30.4 30.4M1909.9 1422.0l30.4 30.4m0 -30.4l-30.4 30.4M1914.0 1420.2l30.4 30.4m0 -30.4l-30.4 30.4M1918.1 1418.3l30.4 30.4m0 -30.4l-30.4 30.4M1922.1 1416.5l30.4 30.4m0 -30.4l-30.4 30.4M1926.2 1414.6l30.4 30.4m0 -30.4l-30.4 30.4M1930.3 1412.8l30.4 30.4m0 -30.4l-30.4 30.4M1934.3 1410.9l30.4 30.4m0 -30.4l-30.4 30.4M1938.4 1409.0l30.4 30.4m0 -30.4l-30.4 30.4M1942.5 1407.2l30.4 30.4m0 -30.4l-30.4 30.4M1946.5 1405.3l30.4 30.4m0 -30.4l-30.4 30.4M1950.6 1403.4l30.4 30.4m0 -30.4l-30.4 30.4M1954.7 1401.6l30.4 30.4m0 -30.4l-30.4 30.4M1958.7 1399.7l30.4 30.4m0 -30.4l-30.4 30.4M1962.8 1397.8l30.4 30.4m0 -30.4l-30.4 30.4M1966.8 1395.9l30.4 30.4m0 -30.4l-30.4 30.4M1970.9 1394.0l30.4 30.4m0 -30.4l-30.4 30.4M1975.0 1392.1l30.4 30.4m0 -30.4l-30.4 30.4M1979.0 1390.2l30.4 30.4m0 -30.4l-30.4 30.4M1983.1 1388.3l30.4 30.4m0 -30.4l-30.4 30.4M1987.2 1386.4l30.4 30.4m0 -30.4l-30.4 30.4M1991.2 1384.5l30.4 30.4m0 -30.4l-30.4 30.4M1995.3 1382.6l30.4 30.4m0 -30.4l-30.4 30.4M1999.4 1380.6l30.4 30.4m0 -30.4l-30.4 30.4M2003.4 1378.7l30.4 30.4m0 -30.4l-30.4 30.4M2007.5 1376.8l30.4 30.4m0 -30.4l-30.4 30.4M2011.6 1374.9l30.4 30.4m0 -30.4l-30.4 30.4M2015.6 1372.9l30.4 30.4m0 -30.4l-30.4 30.4M2019.7 1371.0l30.4 30.4m0 -30.4l-30.4 30.4M2023.8 1369.0l30.4 30.4m0 -30.4l-30.4 30.4M2027.8 1367.1l30.4 30.4m0 -30.4l-30.4 30.4M2031.9 1365.1l30.4 30.4m0 -30.4l-30.4 30.4M2036.0 1363.2l30.4 30.4m0 -30.4l-30.4 30.4M2040.0 1361.2l30.4 30.4m0 -30.4l-30.4 30.4M2044.1 1359.2l30.4 30.4m0 -30.4l-30.4 30.4M2048.2 1357.3l30.4 30.4m0 -30.4l-30.4 30.4M2052.2 1355.3l30.4 30.4m0 -30.4l-30.4 30.4M2056.3 1353.3l30.4 30.4m0 -30.4l-30.4 30.4M2060.4 1351.3l30.4 30.4m0 -30.4l-30.4 30.4M2064.4 1349.3l30.4 30.4m0 -30.4l-30.4 30.4M2068.5 1347.4l30.4 30.4m0 -30.4l-30.4 30.4M2072.6 1345.4l30.4 30.4m0 -30.4l-30.4 30.4M2076.6 1343.4l30.4 30.4m0 -30.4l-30.4 30.4M2080.7 1341.4l30.4 30.4m0 -30.4l-30.4 30.4M2084.8 1339.3l30.4 30.4m0 -30.4l-30.4 30.4M2088.8 1337.3l30.4 30.4m0 -30.4l-30.4 30.4M2092.9 1335.3l30.4 30.4m0 -30.4l-30.4 30.4M2097.0 1333.3l30.4 30.4m0 -30.4l-30.4 30.4M2101.0 1331.3l30.4 30.4m0 -30.4l-30.4 30.4M2105.1 1329.2l30.4 30.4m0 -30.4l-30.4 30.4M2109.2 1327.2l30.4 30.4m0 -30.4l-30.4 30.4M2113.2 1325.2l30.4 30.4m0 -30.4l-30.4 30.4M2117.3 1323.1l30.4 30.4m0 -30.4l-30.4 30.4"/>
<path fill="none" stroke="#eada00" stroke-width="14.35" d="M287.5 1541.0l30.4 30.4m0 -30.4l-30.4 30.4M291.6 1540.2l30.4 30.4m0 -30.4l-30.4 30.4M295.6 1539.2l30.4 30.4m0 -30.4l-30.4 30.4M299.7 1538.2l30.4 30.4m0 -30.4l-30.4 30.4M303.8 1537.1l30.4 30.4m0 -30.4l-30.4 30.4M307.8 1535.9l30.4 30.4m0 -30.4l-30.4 30.4M311.9 1534.5l30.4 30.4m0 -30.4l-30.4 30.4M316.0 1533.1l30.4 30.4m0 -30.4l-30.4 30.4M320.0 1531.6l30.4 30.4m0 -30.4l-30.4 30.4M324.1 1530.1l30.4 30.4m0 -30.4l-30.4 30.4M328.2 1528.4l30.4 30.4m0 -30.4l-30.4 30.4M332.2 1526.7l30.4 30.4m0 -30.4l-30.4 30.4M336.3 1524.9l30.4 30.4m0 -30.4l-30.4 30.4M340.4 1523.0l30.4 30.4m0 -30.4l-30.4 30.4M344.4 1521.1l30.4 30.4m0 -30.4l-30.4 30.4M348.5 1519.1l30.4 30.4m0 -30.4l-30.4 30.4M352.6 1517.0l30.4 30.4m0 -30.4l-30.4 30.4M356.6 1514.9l30.4 30.4m0 -30.4l-30.4 30.4M360.7 1512.8l30.4 30.4m0 -30.4l-30.4 30.4M364.8 1510.6l30.4 30.4m0 -30.4l-30.4 30.4M368.8 1508.3l30.4 30.4m0 -30.4l-30.4 30.4M372.9 1506.0l30.4 30.4m0 -30.4l-30.4 30.4M377.0 1503.7l30.4 30.4m0 -30.4l-30.4 30.4M381.0 1501.3l30.4 30.4m0 -30.4l-30.4 30.4M385.1 1498.9l30.4 30.4m0 -30.4l-30.4 30.4M389.2 1496.5l30.4 30.4m0 -30.4l-30.4 30.4M393.2 1494.1l30.4 30.4m0 -30.4l-30.4 30.4M397.3 1491.6l30.4 30.4m0 -30.4l-30.4 30.4M401.4 1489.1l30.4 30.4m0 -30.4l-30.4 30.4M405.4 1486.6l30.4 30.4m0 -30.4l-30.4 30.4M409.5 1484.1l30.4 30.4m0 -30.4l-30.4 30.4M413.6 1481.5l30.4 30.4m0 -30.4l-30.4 30.4M417.6 1479.0l30.4 30.4m0 -30.4l-30.4 30.4M421.7 1476.5l30.4 30.4m0 -30.4l-30.4 30.4M425.8 1473.9l30.4 30.4m0 -30.4l-30.4 30.4M429.8 1471.4l30.4 30.4m0 -30.4l-30.4 30.4M433.9 1468.9l30.4 30.4m0 -30.4l-30.4 30.4M438.0 1466.4l30.4 30.4m0 -30.4l-30.4 30.4M442.0 1463.9l30.4 30.4m0 -30.4l-30.4 30.4M446.1 1461.4l30.4 30.4m0 -30.4l-30.4 30.4M450.1 1459.0l30.4 30.4m0 -30.4l-30.4 30.4M454.2 1456.6l30.4 30.4m0 -30.4l-30.4 30.4M458.3 1454.2l30.4 30.4m0 -30.4l-30.4 30.4M462.3 1451.8l30.4 30.4m0 -30.4l-30.4 30.4M466.4 1449.4l30.4 30.4m0 -30.4l-30.4 30.4M470.5 1447.1l30.4 30.4m0 -30.4l-30.4 30.4M474.5 1444.8l30.4 30.4m0 -30.4l-30.4 30.4M478.6 1442.6l30.4 30.4m0 -30.4l-30.4 30.4M482.7 1440.3l30.4 30.4m0 -30.4l-30.4 30.4M486.7 1438.1l30.4 30.4m0 -30.4l-30.4 30.4M490.8 1435.9l30.4 30.4m0 -30.4l-30.4 30.4M494.9 1433.7l30.4 30.4m0 -30.4l-30.4 30.4M498.9 1431.6l30.4 30.4m0 -30.4l-30.4 30.4M503.0 1429.4l30.4 30.4m0 -30.4l-30.4 30.4M507.1 1427.3l30.4 30.4m0 -30.4l-30.4 30.4M511.1 1425.2l30.4 30.4m0 -30.4l-30.4 30.4M515.2 1423.1l30.4 30.4m0 -30.4l-30.4 30.4M519.3 1421.1l30.4 30.4m0 -30.4l-30.4 30.4M523.3 1419.0l30.4 30.4m0 -30.4l-30.4 30.4M527.4 1417.0l30.4 30.4m0 -30.4l-30.4 30.4M531.5 1414.9l30.4 30.4m0 -30.4l-30.4 30.4M535.5 1412.9l30.4 30.4m0 -30.4l-30.4 30.4M539.6 1410.9l30.4 30.4m0 -30.4l-30.4 30.4M543.7 1408.9l30.4 30.4m0 -30.4l-30.4 30.4M547.7 1406.9l30.4 30.4m0 -30.4l-30.4 30.4M551.8 1404.9l30.4 30.4m0 -30.4l-30.4 30.4M555.9 1403.0l30.4 30.4m0 -30.4l-30.4 30.4M559.9 1401.0l30.4 30.4m0 -30.4l-30.4 30.4M564.0 1399.0l30.4 30.4m0 -30.4l-30.4 30.4M568.1 1397.1l30.4 30.4m0 -30.4l-30.4 30.4M572.1 1395.1l30.4 30.4m0 -30.4l-30.4 30.4M576.2 1393.2l30.4 30.4m0 -30.4l-30.4 30.4M580.3 1391.3l30.4 30.4m0 -30.4l-30.4 30.4M584.3 1389.3l30.4 30.4m0 -30.4l-30.4 30.4M588.4 1387.4l30.4 30.4m0 -30.4l-30.4 30.4M592.5 1385.4l30.4 30.4m0 -30.4l-30.4 30.4M596.5 1383.5l30.4 30.4m0 -30.4l-30.4 30.4M600.6 1381.5l30.4 30.4m0 -30.4l-30.4 30.4M604.7 1379.6l30.4 30.4m0 -30.4l-30.4 30.4M608.7 1377.6l30.4 30.4m0 -30.4l-30.4 30.4M612.8 1375.7l30.4 30.4m0 -30.4l-30.4 30.4M616.9 1373.7l30.4 30.4m0 -30.4l-30.4 30.4M620.9 1371.7l30.4 30.4m0 -30.4l-30.4 30.4M625.0 1369.7l30.4 30.4m0 -30.4l-30.4 30.4M629.1 1367.8l30.4 30.4m0 -30.4l-30.4 30.4M633.1 1365.8l30.4 30.4m0 -30.4l-30.4 30.4M637.2 1363.8l30.4 30.4m0 -30.4l-30.4 30.4M641.3 1361.7l30.4 30.4m0 -30.4l-30.4 30.4M645.3 1359.7l30.4 30.4m0 -30.4l-30.4 30.4M649.4 1357.7l30.4 30.4m0 -30.4l-30.4 30.4M653.5 1355.6l30.4 30.4m0 -30.4l-30.4 30.4M657.5 1353.5l30.4 30.4m0 -30.4l-30.4 30.4M661.6 1351.4l30.4 30.4m0 -30.4l-30.4 30.4M665.7 1349.3l30.4 30.4m0 -30.4l-30.4 30.4M669.7 1347.2l30.4 30.4m0 -30.4l-30.4 30.4M673.8 1345.1l30.4 30.4m0 -30.4l-30.4 30.4M677.9 1342.9l30.4 30.4m0 -30.4l-30.4 30.4M681.9 1340.7l30.4 30.4m0 -30.4l-30.4 30.4M686.0 1338.5l30.4 30.4m0 -30.4l-30.4 30.4M690.1 1336.3l30.4 30.4m0 -30.4l-30.4 30.4M694.1 1334.1l30.4 30.4m0 -30.4l-30.4 30.4M698.2 1331.8l30.4 30.4m0 -30.4l-30.4 30.4M702.3 1329.6l30.4 30.4m0 -30.4l-30.4 30.4M706.3 1327.3l30.4 30.4m0 -30.4l-30.4 30.4M710.4 1325.0l30.4 30.4m0 -30.4l-30.4 30.4M714.5 1322.7l30.4 30.4m0 -30.4l-30.4 30.4M718.5 1320.4l30.4 30.4m0 -30.4l-30.4 30.4M722.6 1318.0l30.4 30.4m0 -30.4l-30.4 30.4M726.7 1315.7l30.4 30.4m0 -30.4l-30.4 30.4M730.7 1313.3l30.4 30.4m0 -30.4l-30.4 30.4M734.8 1310.9l30.4 30.4m0 -30.4l-30.4 30.4M738.9 1308.5l30.4 30.4m0 -30.4l-30.4 30.4M742.9 1306.1l30.4 30.4m0 -30.4l-30.4 30.4M747.0 1303.7l30.4 30.4m0 -30.4l-30.4 30.4M751.0 1301.3l30.4 30.4m0 -30.4l-30.4 30.4M755.1 1298.9l30.4 30.4m0 -30.4l-30.4 30.4M759.2 1296.5l30.4 30.4m0 -30.4l-30.4 30.4M763.2 1294.0l30.4 30.4m0 -30.4l-30.4 30.4M767.3 1291.6l30.4 30.4m0 -30.4l-30.4 30.4M771.4 1289.1l30.4 30.4m0 -30.4l-30.4 30.4M775.4 1286.7l30.4 30.4m0 -30.4l-30.4 30.4M779.5 1284.2l30.4 30.4m0 -30.4l-30.4 30.4M783.6 1281.7l30.4 30.4m0 -30.4l-30.4 30.4M787.6 1279.2l30.4 30.4m0 -30.4l-30.4 30.4M791.7 1276.7l30.4 30.4m0 -30.4l-30.4 30.4M795.8 1274.2l30.4 30.4m0 -30.4l-30.4 30.4M799.8 1271.8l30.4 30.4m0 -30.4l-30.4 30.4M803.9 1269.3l30.4 30.4m0 -30.4l-30.4 30.4M808.0 1266.8l30.4 30.4m0 -30.4l-30.4 30.4M812.0 1264.3l30.4 30.4m0 -30.4l-30.4 30.4M816.1 1261.8l30.4 30.4m0 -30.4l-30.4 30.4M820.2 1259.2l30.4 30.4m0 -30.4l-30.4 30.4M824.2 1256.7l30.4 30.4m0 -30.4l-30.4 30.4M828.3 1254.2l30.4 30.4m0 -30.4l-30.4 30.4M832.4 1251.7l30.4 30.4m0 -30.4l-30.4 30.4M836.4 1249.2l30.4 30.4m0 -30.4l-30.4 30.4M840.5 1246.7l30.4 30.4m0 -30.4l-30.4 30.4M844.6 1244.2l30.4 30.4m0 -30.4l-30.4 30.4M848.6 1241.7l30.4 30.4m0 -30.4l-30.4 30.4M852.7 1239.2l30.4 30.4m0 -30.4l-30.4 30.4M856.8 1236.7l30.4 30.4m0 -30.4l-30.4 30.4M860.8 1234.3l30.4 30.4m0 -30.4l-30.4 30.4M864.9 1231.8l30.4 30.4m0 -30.4l-30.4 30.4M869.0 1229.3l30.4 30.4m0 -30.4l-30.4 30.4M873.0 1226.8l30.4 30.4m0 -30.4l-30.4 30.4M877.1 1224.4l30.4 30.4m0 -30.4l-30.4 30.4M881.2 1221.9l30.4 30.4m0 -30.4l-30.4 30.4M885.2 1219.5l30.4 30.4m0 -30.4l-30.4 30.4M889.3 1217.0l30.4 30.4m0 -30.4l-30.4 30.4M893.4 1214.6l30.4 30.4m0 -30.4l-30.4 30.4M897.4 1212.2l30.4 30.4m0 -30.4l-30.4 30.4M901.5 1209.7l30.4 30.4m0 -30.4l-30.4 30.4M905.6 1207.3l30.4 30.4m0 -30.4l-30.4 30.4M909.6 1204.9l30.4 30.4m0 -30.4l-30.4 30.4M913.7 1202.5l30.4 30.4m0 -30.4l-30.4 30.4M917.8 1200.2l30.4 30.4m0 -30.4l-30.4 30.4M921.8 1197.8l30.4 30.4m0 -30.4l-30.4 30.4M925.9 1195.4l30.4 30.4m0 -30.4l-30.4 30.4M930.0 1193.0l30.4 30.4m0 -30.4l-30.4 30.4M934.0 1190.7l30.4 30.4m0 -30.4l-30.4 30.4M938.1 1188.4l30.4 30.4m0 -30.4l-30.4 30.4M942.2 1186.0l30.4 30.4m0 -30.4l-30.4 30.4M946.2 1183.7l30.4 30.4m0 -30.4l-30.4 30.4M950.3 1181.4l30.4 30.4m0 -30.4l-30.4 30.4M954.4 1179.0l30.4 30.4m0 -30.4l-30.4 30.4M958.4 1176.7l30.4 30.4m0 -30.4l-30.4 30.4M962.5 1174.4l30.4 30.4m0 -30.4l-30.4 30.4M966.6 1172.1l30.4 30.4m0 -30.4l-30.4 30.4M970.6 1169.8l30.4 30.4m0 -30.4l-30.4 30.4M974.7 1167.5l30.4 30.4m0 -30.4l-30.4 30.4M978.8 1165.2l30.4 30.4m0 -30.4l-30.4 30.4M982.8 1162.9l30.4 30.4m0 -30.4l-30.4 30.4M986.9 1160.7l30.4 30.4m0 -30.4l-30.4 30.4M991.0 1158.4l30.4 30.4m0 -30.4l-30.4 30.4M995.0 1156.1l30.4 30.4m0 -30.4l-30.4 30.4M999.1 1153.8l30.4 30.4m0 -30.4l-30.4 30.4M1003.2 1151.6l30.4 30.4m0 -30.4l-30.4 30.4M1007.2 1149.3l30.4 30.4m0 -30.4l-30.4 30.4M1011.3 1147.1l30.4 30.4m0 -30.4l-30.4 30.4M1015.4 1144.8l30.4 30.4m0 -30.4l-30.4 30.4M1019.4 1142.5l30.4 30.4m0 -30.4l-30.4 30.4M1023.5 1140.3l30.4 30.4m0 -30.4l-30.4 30.4M1027.6 1138.0l30.4 30.4m0 -30.4l-30.4 30.4M1031.6 1135.8l30.4 30.4m0 -30.4l-30.4 30.4M1035.7 1133.5l30.4 30.4m0 -30.4l-30.4 30.4M1039.8 1131.3l30.4 30.4m0 -30.4l-30.4 30.4M1043.8 1129.0l30.4 30.4m0 -30.4l-30.4 30.4M1047.9 1126.8l30.4 30.4m0 -30.4l-30.4 30.4M1051.9 1124.6l30.4 30.4m0 -30.4l-30.4 30.4M1056.0 1122.3l30.4 30.4m0 -30.4l-30.4 30.4M1060.1 1120.1l30.4 30.4m0 -30.4l-30.4 30.4M1064.1 1117.8l30.4 30.4m0 -30.4l-30.4 30.4M1068.2 1115.6l30.4 30.4m0 -30.4l-30.4 30.4M1072.3 1113.3l30.4 30.4m0 -30.4l-30.4 30.4M1076.3 1111.1l30.4 30.4m0 -30.4l-30.4 30.4M1080.4 1108.8l30.4 30.4m0 -30.4l-30.4 30.4M1084.5 1106.6l30.4 30.4m0 -30.4l-30.4 30.4M1088.5 1104.3l30.4 30.4m0 -30.4l-30.4 30.4M1092.6 1102.1l30.4 30.4m0 -30.4l-30.4 30.4M1096.7 1099.8l30.4 30.4m0 -30.4l-30.4 30.4M1100.7 1097.5l30.4 30.4m0 -30.4l-30.4 30.4M1104.8 1095.3l30.4 30.4m0 -30.4l-30.4 30.4M1108.9 1093.0l30.4 30.4m0 -30.4l-30.4 30.4M1112.9 1090.7l30.4 30.4m0 -30.4l-30.4 30.4M1117.0 1088.5l30.4 30.4m0 -30.4l-30.4 30.4M1121.1 1086.2l30.4 30.4m0 -30.4l-30.4 30.4M1125.1 1083.9l30.4 30.4m0 -30.4l-30.4 30.4M1129.2 1081.6l30.4 30.4m0 -30.4l-30.4 30.4M1133.3 1079.3l30.4 30.4m0 -30.4l-30.4 30.4M1137.3 1077.0l30.4 30.4m0 -30.4l-30.4 30.4M1141.4 1074.7l30.4 30.4m0 -30.4l-30.4 30.4M1145.5 1072.4l30.4 30.4m0 -30.4l-30.4 30.4M1149.5 1070.1l30.4 30.4m0 -30.4l-30.4 30.4M1153.6 1067.7l30.4 30.4m0 -30.4l-30.4 30.4M1157.7 1065.4l30.4 30.4m0 -30.4l-30.4 30.4M1161.7 1063.1l30.4 30.4m0 -30.4l-30.4 30.4M1165.8 1060.7l30.4 30.4m0 -30.4l-30.4 30.4M1169.9 1058.4l30.4 30.4m0 -30.4l-30.4 30.4M1173.9 1056.0l30.4 30.4m0 -30.4l-30.4 30.4M1178.0 1053.6l30.4 30.4m0 -30.4l-30.4 30.4M1182.1 1051.2l30.4 30.4m0 -30.4l-30.4 30.4M1186.1 1048.8l30.4 30.4m0 -30.4l-30.4 30.4M1190.2 1046.4l30.4 30.4m0 -30.4l-30.4 30.4M1194.3 1044.0l30.4 30.4m0 -30.4l-30.4 30.4M1198.3 1041.5l30.4 30.4m0 -30.4l-30.4 30.4M1202.4 1039.1l30.4 30.4m0 -30.4l-30.4 30.4M1206.5 1036.6l30.4 30.4m0 -30.4l-30.4 30.4M1210.5 1034.2l30.4 30.4m0 -30.4l-30.4 30.4M1214.6 1031.7l30.4 30.4m0 -30.4l-30.4 30.4M1218.7 1029.2l30.4 30.4m0 -30.4l-30.4 30.4M1222.7 1026.7l30.4 30.4m0 -30.4l-30.4 30.4M1226.8 1024.2l30.4 30.4m0 -30.4l-30.4 30.4M1230.9 1021.6l30.4 30.4m0 -30.4l-30.4 30.4M1234.9 1019.1l30.4 30.4m0 -30.4l-30.4 30.4M1239.0 1016.5l30.4 30.4m0 -30.4l-30.4 30.4M1243.1 1013.9l30.4 30.4m0 -30.4l-30.4 30.4M1247.1 1011.3l30.4 30.4m0 -30.4l-30.4 30.4M1251.2 1008.7l30.4 30.4m0 -30.4l-30.4 30.4M1255.3 1006.0l30.4 30.4m0 -30.4l-30.4 30.4M1259.3 1003.4l30.4 30.4m0 -30.4l-30.4 30.4M1263.4 1000.7l30.4 30.4m0 -30.4l-30.4 30.4M1267.5 998.0l30.4 30.4m0 -30.4l-30.4 30.4M1271.5 995.3l30.4 30.4m0 -30.4l-30.4 30.4M1275.6 992.6l30.4 30.4m0 -30.4l-30.4 30.4M1279.7 989.8l30.4 30.4m0 -30.4l-30.4 30.4M1283.7 987.1l30.4 30.4m0 -30.4l-30.4 30.4M1287.8 984.3l30.4 30.4m0 -30.4l-30.4 30.4M1291.9 981.5l30.4 30.4m0 -30.4l-30.4 30.4M1295.9 978.6l30.4 30.4m0 -30.4l-30.4 30.4M1300.0 975.8l30.4 30.4m0 -30.4l-30.4 30.4M1304.1 972.9l30.4 30.4m0 -30.4l-30.4 30.4M1308.1 970.0l30.4 30.4m0 -30.4l-30.4 30.4M1312.2 967.1l30.4 30.4m0 -30.4l-30.4 30.4M1316.3 964.2l30.4 30.4m0 -30.4l-30.4 30.4M1320.3 961.2l30.4 30.4m0 -30.4l-30.4 30.4M1324.4 958.2l30.4 30.4m0 -30.4l-30.4 30.4M1328.5 955.2l30.4 30.4m0 -30.4l-30.4 30.4M1332.5 952.2l30.4 30.4m0 -30.4l-30.4 30.4M1336.6 949.2l30.4 30.4m0 -30.4l-30.4 30.4M1340.7 946.1l30.4 30.4m0 -30.4l-30.4 30.4M1344.7 943.0l30.4 30.4m0 -30.4l-30.4 30.4M1348.8 939.9l30.4 30.4m0 -30.4l-30.4 30.4M1352.9 936.8l30.4 30.4m0 -30.4l-30.4 30.4M1356.9 933.7l30.4 30.4m0 -30.4l-30.4 30.4M1361.0 930.5l30.4 30.4m0 -30.4l-30.4 30.4M1365.0 927.3l30.4 30.4m0 -30.4l-30.4 30.4M1369.1 924.2l30.4 30.4m0 -30.4l-30.4 30.4M1373.2 920.9l30.4 30.4m0 -30.4l-30.4 30.4M1377.2 917.7l30.4 30.4m0 -30.4l-30.4 30.4M1381.3 914.5l30.4 30.4m0 -30.4l-30.4 30.4M1385.4 911.2l30.4 30.4m0 -30.4l-30.4 30.4M1389.4 907.9l30.4 30.4m0 -30.4l-30.4 30.4M1393.5 904.6l30.4 30.4m0 -30.4l-30.4 30.4M1397.6 901.3l30.4 30.4m0 -30.4l-30.4 30.4M1401.6 898.0l30.4 30.4m0 -30.4l-30.4 30.4M1405.7 894.7l30.4 30.4m0 -30.4l-30.4 30.4M1409.8 891.3l30.4 30.4m0 -30.4l-30.4 30.4M1413.8 888.0l30.4 30.4m0 -30.4l-30.4 30.4M1417.9 884.6l30.4 30.4m0 -30.4l-30.4 30.4M1422.0 881.2l30.4 30.4m0 -30.4l-30.4 30.4M1426.0 877.8l30.4 30.4m0 -30.4l-30.4 30.4M1430.1 874.3l30.4 30.4m0 -30.4l-30.4 30.4M1434.2 870.9l30.4 30.4m0 -30.4l-30.4 30.4M1438.2 867.4l30.4 30.4m0 -30.4l-30.4 30.4M1442.3 864.0l30.4 30.4m0 -30.4l-30.4 30.4M1446.4 860.5l30.4 30.4m0 -30.4l-30.4 30.4M1450.4 857.0l30.4 30.4m0 -30.4l-30.4 30.4M1454.5 853.5l30.4 30.4m0 -30.4l-30.4 30.4M1458.6 850.0l30.4 30.4m0 -30.4l-30.4 30.4M1462.6 846.5l30.4 30.4m0 -30.4l-30.4 30.4M1466.7 842.9l30.4 30.4m0 -30.4l-30.4 30.4M1470.8 839.4l30.4 30.4m0 -30.4l-30.4 30.4M1474.8 835.8l30.4 30.4m0 -30.4l-30.4 30.4M1478.9 832.2l30.4 30.4m0 -30.4l-30.4 30.4M1483.0 828.7l30.4 30.4m0 -30.4l-30.4 30.4M1487.0 825.1l30.4 30.4m0 -30.4l-30.4 30.4M1491.1 821.5l30.4 30.4m0 -30.4l-30.4 30.4M1495.2 817.9l30.4 30.4m0 -30.4l-30.4 30.4M1499.2 814.3l30.4 30.4m0 -30.4l-30.4 30.4M1503.3 810.6l30.4 30.4m0 -30.4l-30.4 30.4M1507.4 807.0l30.4 30.4m0 -30.4l-30.4 30.4M1511.4 803.3l30.4 30.4m0 -30.4l-30.4 30.4M1515.5 799.7l30.4 30.4m0 -30.4l-30.4 30.4M1519.6 796.0l30.4 30.4m0 -30.4l-30.4 30.4M1523.6 792.4l30.4 30.4m0 -30.4l-30.4 30.4M1527.7 788.7l30.4 30.4m0 -30.4l-30.4 30.4M1531.8 785.0l30.4 30.4m0 -30.4l-30.4 30.4M1535.8 781.3l30.4 30.4m0 -30.4l-30.4 30.4M1539.9 777.6l30.4 30.4m0 -30.4l-30.4 30.4M1544.0 773.9l30.4 30.4m0 -30.4l-30.4 30.4M1548.0 770.2l30.4 30.4m0 -30.4l-30.4 30.4M1552.1 766.5l30.4 30.4m0 -30.4l-30.4 30.4M1556.2 762.8l30.4 30.4m0 -30.4l-30.4 30.4M1560.2 759.1l30.4 30.4m0 -30.4l-30.4 30.4M1564.3 755.4l30.4 30.4m0 -30.4l-30.4 30.4M1568.4 751.6l30.4 30.4m0 -30.4l-30.4 30.4M1572.4 747.9l30.4 30.4m0 -30.4l-30.4 30.4M1576.5 744.2l30.4 30.4m0 -30.4l-30.4 30.4M1580.6 740.4l30.4 30.4m0 -30.4l-30.4 30.4M1584.6 736.7l30.4 30.4m0 -30.4l-30.4 30.4M1588.7 732.9l30.4 30.4m0 -30.4l-30.4 30.4M1592.8 729.1l30.4 30.4m0 -30.4l-30.4 30.4M1596.8 725.4l30.4 30.4m0 -30.4l-30.4 30.4M1600.9 721.6l30.4 30.4m0 -30.4l-30.4 30.4M1605.0 717.8l30.4 30.4m0 -30.4l-30.4 30.4M1609.0 714.1l30.4 30.4m0 -30.4l-30.4 30.4M1613.1 710.3l30.4 30.4m0 -30.4l-30.4 30.4M1617.2 706.5l30.4 30.4m0 -30.4l-30.4 30.4M1621.2 702.7l30.4 30.4m0 -30.4l-30.4 30.4M1625.3 698.9l30.4 30.4m0 -30.4l-30.4 30.4M1629.4 695.1l30.4 30.4m0 -30.4l-30.4 30.4M1633.4 691.3l30.4 30.4m0 -30.4l-30.4 30.4M1637.5 687.5l30.4 30.4m0 -30.4l-30.4 30.4M1641.6 683.7l30.4 30.4m0 -30.4l-30.4 30.4M1645.6 679.8l30.4 30.4m0 -30.4l-30.4 30.4M1649.7 676.0l30.4 30.4m0 -30.4l-30.4 30.4M1653.8 672.2l30.4 30.4m0 -30.4l-30.4 30.4M1657.8 668.3l30.4 30.4m0 -30.4l-30.4 30.4M1661.9 664.5l30.4 30.4m0 -30.4l-30.4 30.4M1665.9 660.6l30.4 30.4m0 -30.4l-30.4 30.4M1670.0 656.8l30.4 30.4m0 -30.4l-30.4 30.4M1674.1 652.9l30.4 30.4m0 -30.4l-30.4 30.4M1678.1 649.0l30.4 30.4m0 -30.4l-30.4 30.4M1682.2 645.2l30.4 30.4m0 -30.4l-30.4 30.4M1686.3 641.3l30.4 30.4m0 -30.4l-30.4 30.4M1690.3 637.4l30.4 30.4m0 -30.4l-30.4 30.4M1694.4 633.5l30.4 30.4m0 -30.4l-30.4 30.4M1698.5 629.6l30.4 30.4m0 -30.4l-30.4 30.4M1702.5 625.7l30.4 30.4m0 -30.4l-30.4 30.4M1706.6 621.8l30.4 30.4m0 -30.4l-30.4 30.4M1710.7 617.9l30.4 30.4m0 -30.4l-30.4 30.4M1714.7 613.9l30.4 30.4m0 -30.4l-30.4 30.4M1718.8 610.0l30.4 30.4m0 -30.4l-30.4 30.4M1722.9 606.1l30.4 30.4m0 -30.4l-30.4 30.4M1726.9 602.1l30.4 30.4m0 -30.4l-30.4 30.4M1731.0 598.2l30.4 30.4m0 -30.4l-30.4 30.4M1735.1 594.2l30.4 30.4m0 -30.4l-30.4 30.4M1739.1 590.2l30.4 30.4m0 -30.4l-30.4 30.4M1743.2 586.3l30.4 30.4m0 -30.4l-30.4 30.4M1747.3 582.3l30.4 30.4m0 -30.4l-30.4 30.4M1751.3 578.3l30.4 30.4m0 -30.4l-30.4 30.4M1755.4 574.3l30.4 30.4m0 -30.4l-30.4 30.4M1759.5 570.3l30.4 30.4m0 -30.4l-30.4 30.4M1763.5 566.3l30.4 30.4m0 -30.4l-30.4 30.4M1767.6 562.3l30.4 30.4m0 -30.4l-30.4 30.4M1771.7 558.3l30.4 30.4m0 -30.4l-30.4 30.4M1775.7 554.2l30.4 30.4m0 -30.4l-30.4 30.4M1779.8 550.2l30.4 30.4m0 -30.4l-30.4 30.4M1783.9 546.1l30.4 30.4m0 -30.4l-30.4 30.4M1787.9 542.1l30.4 30.4m0 -30.4l-30.4 30.4M1792.0 538.0l30.4 30.4m0 -30.4l-30.4 30.4M1796.1 534.0l30.4 30.4m0 -30.4l-30.4 30.4M1800.1 529.9l30.4 30.4m0 -30.4l-30.4 30.4M1804.2 525.8l30.4 30.4m0 -30.4l-30.4 30.4M1808.3 521.7l30.4 30.4m0 -30.4l-30.4 30.4M1812.3 517.6l30.4 30.4m0 -30.4l-30.4 30.4M1816.4 513.5l30.4 30.4m0 -30.4l-30.4 30.4M1820.5 509.4l30.4 30.4m0 -30.4l-30.4 30.4M1824.5 505.3l30.4 30.4m0 -30.4l-30.4 30.4M1828.6 501.1l30.4 30.4m0 -30.4l-30.4 30.4M1832.7 497.0l30.4 30.4m0 -30.4l-30.4 30.4M1836.7 492.8l30.4 30.4m0 -30.4l-30.4 30.4M1840.8 488.7l30.4 30.4m0 -30.4l-30.4 30.4M1844.9 484.5l30.4 30.4m0 -30.4l-30.4 30.4M1848.9 480.4l30.4 30.4m0 -30.4l-30.4 30.4M1853.0 476.2l30.4 30.4m0 -30.4l-30.4 30.4M1857.1 472.0l30.4 30.4m0 -30.4l-30.4 30.4M1861.1 467.8l30.4 30.4m0 -30.4l-30.4 30.4M1865.2 463.6l30.4 30.4m0 -30.4l-30.4 30.4M1869.3 459.4l30.4 30.4m0 -30.4l-30.4 30.4M1873.3 455.1l30.4 30.4m0 -30.4l-30.4 30.4M1877.4 450.9l30.4 30.4m0 -30.4l-30.4 30.4M1881.5 446.7l30.4 30.4m0 -30.4l-30.4 30.4M1885.5 442.4l30.4 30.4m0 -30.4l-30.4 30.4M1889.6 438.1l30.4 30.4m0 -30.4l-30.4 30.4M1893.7 433.9l30.4 30.4m0 -30.4l-30.4 30.4M1897.7 429.6l30.4 30.4m0 -30.4l-30.4 30.4M1901.8 425.3l30.4 30.4m0 -30.4l-30.4 30.4M1905.9 421.0l30.4 30.4m0 -30.4l-30.4 30.4M1909.9 416.7l30.4 30.4m0 -30.4l-30.4 30.4M1914.0 412.4l30.4 30.4m0 -30.4l-30.4 30.4M1918.1 408.1l30.4 30.4m0 -30.4l-30.4 30.4M1922.1 403.7l30.4 30.4m0 -30.4l-30.4 30.4M1926.2 399.4l30.4 30.4m0 -30.4l-30.4 30.4M1930.3 395.0l30.4 30.4m0 -30.4l-30.4 30.4M1934.3 390.7l30.4 30.4m0 -30.4l-30.4 30.4M1938.4 386.3l30.4 30.4m0 -30.4l-30.4 30.4M1942.5 381.9l30.4 30.4m0 -30.4l-30.4 30.4M1946.5 377.5l30.4 30.4m0 -30.4l-30.4 30.4M1950.6 373.1l30.4 30.4m0 -30.4l-30.4 30.4M1954.7 368.7l30.4 30.4m0 -30.4l-30.4 30.4M1958.7 364.3l30.4 30.4m0 -30.4l-30.4 30.4M1962.8 359.9l30.4 30.4m0 -30.4l-30.4 30.4M1966.8 355.4l30.4 30.4m0 -30.4l-30.4 30.4M1970.9 351.0l30.4 30.4m0 -30.4l-30.4 30.4M1975.0 346.5l30.4 30.4m0 -30.4l-30.4 30.4M1979.0 342.0l30.4 30.4m0 -30.4l-30.4 30.4M1983.1 337.5l30.4 30.4m0 -30.4l-30.4 30.4M1987.2 333.0l30.4 30.4m0 -30.4l-30.4 30.4M1991.2 328.5l30.4 30.4m0 -30.4l-30.4 30.4M1995.3 324.0l30.4 30.4m0 -30.4l-30.4 30.4M1999.4 319.5l30.4 30.4m0 -30.4l-30.4 30.4M2003.4 315.0l30.4 30.4m0 -30.4l-30.4 30.4M2007.5 310.4l30.4 30.4m0 -30.4l-30.4 30.4M2011.6 305.9l30.4 30.4m0 -30.4l-30.4 30.4M2015.6 301.3l30.4 30.4m0 -30.4l-30.4 30.4M2019.7 296.7l30.4 30.4m0 -30.4l-30.4 30.4M2023.8 292.1l30.4 30.4m0 -30.4l-30.4 30.4M2027.8 287.5l30.4 30.4m0 -30.4l-30.4 30.4M2031.9 282.9l30.4 30.4m0 -30.4l-30.4 30.4M2036.0 278.3l30.4 30.4m0 -30.4l-30.4 30.4M2040.0 273.6l30.4 30.4m0 -30.4l-30.4 30.4M2044.1 269.0l30.4 30.4m0 -30.4l-30.4 30.4M2048.2 264.3l30.4 30.4m0 -30.4l-30.4 30.4M2052.2 259.7l30.4 30.4m0 -30.4l-30.4 30.4M2056.3 255.0l30.4 30.4m0 -30.4l-30.4 30.4M2060.4 250.3l30.4 30.4m0 -30.4l-30.4 30.4M2064.4 245.6l30.4 30.4m0 -30.4l-30.4 30.4M2068.5 240.9l30.4 30.4m0 -30.4l-30.4 30.4M2072.6 236.2l30.4 30.4m0 -30.4l-30.4 30.4M2076.6 231.4l30.4 30.4m0 -30.4l-30.4 30.4M2080.7 226.7l30.4 30.4m0 -30.4l-30.4 30.4M2084.8 221.9l30.4 30.4m0 -30.4l-30.4 30.4M2088.8 217.1l30.4 30.4m0 -30.4l-30.4 30.4M2092.9 212.4l30.4 30.4m0 -30.4l-30.4 30.4M2097.0 207.6l30.4 30.4m0 -30.4l-30.4 30.4M2101.0 202.7l30.4 30.4m0 -30.4l-30.4 30.4M2105.1 197.9l30.4 30.4m0 -30.4l-30.4 30.4M2109.2 193.1l30.4 30.4m0 -30.4l-30.4 30.4M2113.2 188.2l30.4 30.4m0 -30.4l-30.4 30.4M2117.3 183.4l30.4 30.4m0 -30.4l-30.4 30.4"/>
<text transform="translate(269.6 1919.0) scale(1 1.0411)" font-size="88.00" fill="#222222" text-anchor="end">2</text>
<text transform="translate(269.6 1614.0) scale(1 1.0411)" font-size="88.00" fill="#222222" text-anchor="end">4</text>
<text transform="translate(269.6 1309.1) scale(1 1.0411)" font-size="88.00" fill="#222222" text-anchor="end">6</text>
<text transform="translate(269.6 1004.1) scale(1 1.0411)" font-size="88.00" fill="#222222" text-anchor="end">8</text>
<text transform="translate(171.7 699.2) scale(1 1.0411)" font-size="88.00" fill="#222222" clip-path="url(#c0)"><tspan dx="2.92">1</tspan><tspan dx="-2.92">0</tspan></text>
<text transform="translate(171.7 394.3) scale(1 1.0411)" font-size="88.00" fill="#222222" clip-path="url(#c1)"><tspan dx="2.92">1</tspan><tspan dx="-2.92">2</tspan></text>
<text transform="translate(171.7 89.3) scale(1 1.0411)" font-size="88.00" fill="#222222" clip-path="url(#c2)"><tspan dx="2.92">1</tspan><tspan dx="-2.92">4</tspan></text>
<text transform="translate(506.0 2005.4) scale(1 1.0411)" font-size="88.00" fill="#222222" text-anchor="middle">0</text>
<text transform="translate(863.7 2005.4) scale(1 1.0411)" font-size="88.00" fill="#222222" clip-path="url(#c3)"><tspan dx="2.92">1</tspan><tspan dx="-2.92">0</tspan></text>
<text transform="translate(1319.3 2005.4) scale(1 1.0411)" font-size="88.00" fill="#222222" text-anchor="middle">20</text>
<text transform="translate(1725.9 2005.4) scale(1 1.0411)" font-size="88.00" fill="#222222" text-anchor="middle">30</text>
<text transform="translate(2132.5 2005.4) scale(1 1.0411)" font-size="88.00" fill="#222222" text-anchor="middle">40</text>
<text transform="translate(960.9 2120.2) scale(1 1.0411)" font-size="88.00" fill="#222222">T</text>
<text transform="translate(1015.0 2161.7) scale(1 0.9941)" font-size="69.75" fill="#222222">AIR,AMB</text>
<text transform="translate(1326.6 2118.9) scale(1 0.9560)" font-size="88.00" fill="#222222">[</text>
<text transform="translate(1351.1 2120.2) scale(1 1.0411)" font-size="88.00" fill="#222222">°C</text>
<text transform="translate(1449.8 2118.9) scale(1 0.9560)" font-size="88.00" fill="#222222">]</text>
<g transform="translate(91.5 1072.0) rotate(-90)">
<text transform="translate(3.6 0) scale(1.077 1)" font-size="84" fill="#222222" font-family="Liberation Serif, serif" font-style="italic" stroke="#fff" stroke-width="2.2">β</text>
<text transform="translate(51.1 43.4) scale(1 1.0487)" font-size="68.50" fill="#222222">C</text>
<text transform="translate(125.9 0.1) scale(1 0.9830)" font-size="87.00" fill="#222222">[-]</text>
</g>
<rect x="366.4" y="110.0" width="781.9" height="489.7" fill="#fff" stroke="#1a1a1a" stroke-width="3.3"/>
<path d="M482.50 163.80L512.90 194.20M482.50 194.20L512.90 163.80" stroke="#ff0044" stroke-width="14.35" fill="none"/>
<text transform="translate(623.4 213.3) scale(1 1.0411)" font-size="88.00" fill="#000" clip-path="url(#c4)">R-449A MT<tspan dx="2.92">1</tspan></text>
<path d="M482.50 281.25L512.90 311.65M482.50 311.65L512.90 281.25" stroke="#00b5ff" stroke-width="14.35" fill="none"/>
<text transform="translate(623.4 330.8) scale(1 1.0411)" font-size="88.00" fill="#000">R-449A LT</text>
<path d="M482.50 398.70L512.90 429.10M482.50 429.10L512.90 398.70" stroke="#00e88c" stroke-width="14.35" fill="none"/>
<text transform="translate(623.4 448.2) scale(1 1.0411)" font-size="88.00" fill="#000" clip-path="url(#c5)">R-454C MT<tspan dx="2.92">1</tspan></text>
<path d="M482.50 516.15L512.90 546.55M482.50 546.55L512.90 516.15" stroke="#eada00" stroke-width="14.35" fill="none"/>
<text transform="translate(623.4 565.6) scale(1 1.0411)" font-size="88.00" fill="#000">R-454C LT</text>
<defs><clipPath id="c0" clipPathUnits="userSpaceOnUse"><path d="M-3000 -3000H3000V3000H-3000ZM8.43 -7.37H24.95V2.50H8.43ZM32.93 -7.37H48.77V2.50H32.93Z" clip-rule="evenodd"/></clipPath><clipPath id="c1" clipPathUnits="userSpaceOnUse"><path d="M-3000 -3000H3000V3000H-3000ZM8.43 -7.37H24.95V2.50H8.43ZM32.93 -7.37H48.77V2.50H32.93Z" clip-rule="evenodd"/></clipPath><clipPath id="c2" clipPathUnits="userSpaceOnUse"><path d="M-3000 -3000H3000V3000H-3000ZM8.43 -7.37H24.95V2.50H8.43ZM32.93 -7.37H48.77V2.50H32.93Z" clip-rule="evenodd"/></clipPath><clipPath id="c3" clipPathUnits="userSpaceOnUse"><path d="M-3000 -3000H3000V3000H-3000ZM8.43 -7.37H24.95V2.50H8.43ZM32.93 -7.37H48.77V2.50H32.93Z" clip-rule="evenodd"/></clipPath><clipPath id="c4" clipPathUnits="userSpaceOnUse"><path d="M-3000 -3000H3000V3000H-3000ZM458.31 -7.37H474.83V2.50H458.31ZM482.81 -7.37H498.65V2.50H482.81Z" clip-rule="evenodd"/></clipPath><clipPath id="c5" clipPathUnits="userSpaceOnUse"><path d="M-3000 -3000H3000V3000H-3000ZM463.16 -7.37H479.69V2.50H463.16ZM487.67 -7.37H503.50V2.50H487.67Z" clip-rule="evenodd"/></clipPath></defs>
</svg></body></html>
